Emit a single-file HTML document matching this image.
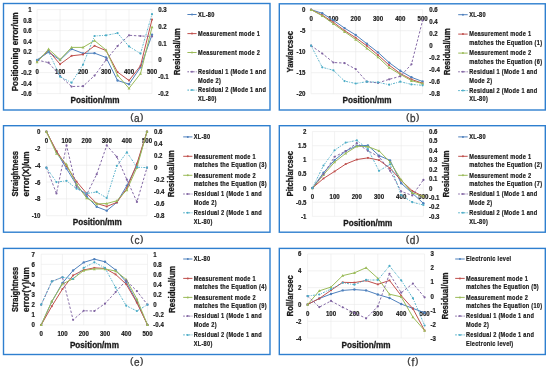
<!DOCTYPE html>
<html><head><meta charset="utf-8"><style>
html,body{margin:0;padding:0;background:#fff;width:550px;height:369px;overflow:hidden}
svg{display:block;will-change:transform}
text{font-family:"Liberation Sans", sans-serif}
</style></head><body>
<svg width="550" height="369" viewBox="0 0 550 369">
<rect width="550" height="369" fill="#fff"/>
<rect x="3.5" y="3.5" width="266.5" height="106.5" fill="none" stroke="#2e7fcf" stroke-width="1.4"/>
<line x1="37.10" y1="9.60" x2="152.00" y2="9.60" stroke="#e9e9e9" stroke-width="0.6"/>
<line x1="37.10" y1="20.10" x2="152.00" y2="20.10" stroke="#e9e9e9" stroke-width="0.6"/>
<line x1="37.10" y1="30.60" x2="152.00" y2="30.60" stroke="#e9e9e9" stroke-width="0.6"/>
<line x1="37.10" y1="41.10" x2="152.00" y2="41.10" stroke="#e9e9e9" stroke-width="0.6"/>
<line x1="37.10" y1="51.60" x2="152.00" y2="51.60" stroke="#e9e9e9" stroke-width="0.6"/>
<line x1="37.10" y1="62.10" x2="152.00" y2="62.10" stroke="#e9e9e9" stroke-width="0.6"/>
<line x1="37.10" y1="72.60" x2="152.00" y2="72.60" stroke="#e9e9e9" stroke-width="0.6"/>
<line x1="37.10" y1="83.10" x2="152.00" y2="83.10" stroke="#e9e9e9" stroke-width="0.6"/>
<line x1="37.10" y1="93.60" x2="152.00" y2="93.60" stroke="#e9e9e9" stroke-width="0.6"/>
<line x1="37.10" y1="9.60" x2="37.10" y2="93.60" stroke="#e9e9e9" stroke-width="0.6"/>
<line x1="60.08" y1="9.60" x2="60.08" y2="93.60" stroke="#e9e9e9" stroke-width="0.6"/>
<line x1="83.06" y1="9.60" x2="83.06" y2="93.60" stroke="#e9e9e9" stroke-width="0.6"/>
<line x1="106.04" y1="9.60" x2="106.04" y2="93.60" stroke="#e9e9e9" stroke-width="0.6"/>
<line x1="129.02" y1="9.60" x2="129.02" y2="93.60" stroke="#e9e9e9" stroke-width="0.6"/>
<line x1="152.00" y1="9.60" x2="152.00" y2="93.60" stroke="#e9e9e9" stroke-width="0.6"/>
<text transform="translate(31.60 12.05) scale(0.870 1)" font-size="7.0" text-anchor="end" font-weight="bold" fill="#1a1a1a" stroke="#1a1a1a" stroke-width="0.2" >1</text>
<text transform="translate(31.60 22.55) scale(0.870 1)" font-size="7.0" text-anchor="end" font-weight="bold" fill="#1a1a1a" stroke="#1a1a1a" stroke-width="0.2" >0.8</text>
<text transform="translate(31.60 33.05) scale(0.870 1)" font-size="7.0" text-anchor="end" font-weight="bold" fill="#1a1a1a" stroke="#1a1a1a" stroke-width="0.2" >0.6</text>
<text transform="translate(31.60 43.55) scale(0.870 1)" font-size="7.0" text-anchor="end" font-weight="bold" fill="#1a1a1a" stroke="#1a1a1a" stroke-width="0.2" >0.4</text>
<text transform="translate(31.60 54.05) scale(0.870 1)" font-size="7.0" text-anchor="end" font-weight="bold" fill="#1a1a1a" stroke="#1a1a1a" stroke-width="0.2" >0.2</text>
<text transform="translate(31.60 64.55) scale(0.870 1)" font-size="7.0" text-anchor="end" font-weight="bold" fill="#1a1a1a" stroke="#1a1a1a" stroke-width="0.2" >0</text>
<text transform="translate(31.60 75.05) scale(0.870 1)" font-size="7.0" text-anchor="end" font-weight="bold" fill="#1a1a1a" stroke="#1a1a1a" stroke-width="0.2" >-0.2</text>
<text transform="translate(31.60 85.55) scale(0.870 1)" font-size="7.0" text-anchor="end" font-weight="bold" fill="#1a1a1a" stroke="#1a1a1a" stroke-width="0.2" >-0.4</text>
<text transform="translate(31.60 96.05) scale(0.870 1)" font-size="7.0" text-anchor="end" font-weight="bold" fill="#1a1a1a" stroke="#1a1a1a" stroke-width="0.2" >-0.6</text>
<text transform="translate(158.20 12.05) scale(0.870 1)" font-size="7.0" text-anchor="start" font-weight="bold" fill="#1a1a1a" stroke="#1a1a1a" stroke-width="0.2" >0.3</text>
<text transform="translate(158.20 28.85) scale(0.870 1)" font-size="7.0" text-anchor="start" font-weight="bold" fill="#1a1a1a" stroke="#1a1a1a" stroke-width="0.2" >0.2</text>
<text transform="translate(158.20 45.65) scale(0.870 1)" font-size="7.0" text-anchor="start" font-weight="bold" fill="#1a1a1a" stroke="#1a1a1a" stroke-width="0.2" >0.1</text>
<text transform="translate(158.20 62.45) scale(0.870 1)" font-size="7.0" text-anchor="start" font-weight="bold" fill="#1a1a1a" stroke="#1a1a1a" stroke-width="0.2" >0</text>
<text transform="translate(158.20 79.25) scale(0.870 1)" font-size="7.0" text-anchor="start" font-weight="bold" fill="#1a1a1a" stroke="#1a1a1a" stroke-width="0.2" >-0.1</text>
<text transform="translate(158.20 96.05) scale(0.870 1)" font-size="7.0" text-anchor="start" font-weight="bold" fill="#1a1a1a" stroke="#1a1a1a" stroke-width="0.2" >-0.2</text>
<text transform="translate(37.10 73.70) scale(0.870 1)" font-size="7.0" text-anchor="middle" font-weight="bold" fill="#1a1a1a" stroke="#1a1a1a" stroke-width="0.2" >0</text>
<text transform="translate(60.08 73.70) scale(0.870 1)" font-size="7.0" text-anchor="middle" font-weight="bold" fill="#1a1a1a" stroke="#1a1a1a" stroke-width="0.2" >100</text>
<text transform="translate(83.06 73.70) scale(0.870 1)" font-size="7.0" text-anchor="middle" font-weight="bold" fill="#1a1a1a" stroke="#1a1a1a" stroke-width="0.2" >200</text>
<text transform="translate(106.04 73.70) scale(0.870 1)" font-size="7.0" text-anchor="middle" font-weight="bold" fill="#1a1a1a" stroke="#1a1a1a" stroke-width="0.2" >300</text>
<text transform="translate(129.02 73.70) scale(0.870 1)" font-size="7.0" text-anchor="middle" font-weight="bold" fill="#1a1a1a" stroke="#1a1a1a" stroke-width="0.2" >400</text>
<text transform="translate(152.00 73.70) scale(0.870 1)" font-size="7.0" text-anchor="middle" font-weight="bold" fill="#1a1a1a" stroke="#1a1a1a" stroke-width="0.2" >500</text>
<text transform="translate(95.00 103.10)" font-size="8.8" text-anchor="middle" font-weight="bold" fill="#1a1a1a" stroke="#1a1a1a" stroke-width="0.3" textLength="49.00" lengthAdjust="spacingAndGlyphs" >Position/mm</text>
<text transform="translate(17.58 51.80) rotate(-90)" font-size="8.8" text-anchor="middle" font-weight="bold" fill="#1a1a1a" stroke="#1a1a1a" stroke-width="0.3" textLength="79.00" lengthAdjust="spacingAndGlyphs" >Positioning error/um</text>
<text transform="translate(179.68 51.70) rotate(-90)" font-size="8.8" text-anchor="middle" font-weight="bold" fill="#1a1a1a" stroke="#1a1a1a" stroke-width="0.3" textLength="47.00" lengthAdjust="spacingAndGlyphs" >Residual/um</text>
<polyline points="37.10,60.00 48.59,52.12 60.08,60.00 71.57,48.98 83.06,53.38 94.55,53.17 106.04,57.48 117.53,80.47 129.02,84.15 140.51,67.35 152.00,34.80" fill="none" stroke="#4f81bd" stroke-width="1.0" stroke-linejoin="round"/>
<circle cx="37.10" cy="60.00" r="1.20" fill="#4f81bd"/>
<circle cx="48.59" cy="52.12" r="1.20" fill="#4f81bd"/>
<circle cx="60.08" cy="60.00" r="1.20" fill="#4f81bd"/>
<circle cx="71.57" cy="48.98" r="1.20" fill="#4f81bd"/>
<circle cx="83.06" cy="53.38" r="1.20" fill="#4f81bd"/>
<circle cx="94.55" cy="53.17" r="1.20" fill="#4f81bd"/>
<circle cx="106.04" cy="57.48" r="1.20" fill="#4f81bd"/>
<circle cx="117.53" cy="80.47" r="1.20" fill="#4f81bd"/>
<circle cx="129.02" cy="84.15" r="1.20" fill="#4f81bd"/>
<circle cx="140.51" cy="67.35" r="1.20" fill="#4f81bd"/>
<circle cx="152.00" cy="34.80" r="1.20" fill="#4f81bd"/>
<polyline points="37.10,61.05 48.59,50.81 60.08,64.20 71.57,55.80 83.06,54.49 94.55,45.82 106.04,50.55 117.53,72.07 129.02,80.47 140.51,65.78 152.00,19.57" fill="none" stroke="#c0504d" stroke-width="1.0" stroke-linejoin="round"/>
<rect x="36.20" y="60.15" width="1.80" height="1.80" fill="#c0504d"/>
<rect x="47.69" y="49.91" width="1.80" height="1.80" fill="#c0504d"/>
<rect x="59.18" y="63.30" width="1.80" height="1.80" fill="#c0504d"/>
<rect x="70.67" y="54.90" width="1.80" height="1.80" fill="#c0504d"/>
<rect x="82.16" y="53.59" width="1.80" height="1.80" fill="#c0504d"/>
<rect x="93.65" y="44.92" width="1.80" height="1.80" fill="#c0504d"/>
<rect x="105.14" y="49.65" width="1.80" height="1.80" fill="#c0504d"/>
<rect x="116.63" y="71.17" width="1.80" height="1.80" fill="#c0504d"/>
<rect x="128.12" y="79.57" width="1.80" height="1.80" fill="#c0504d"/>
<rect x="139.61" y="64.88" width="1.80" height="1.80" fill="#c0504d"/>
<rect x="151.10" y="18.67" width="1.80" height="1.80" fill="#c0504d"/>
<polyline points="37.10,62.10 48.59,49.13 60.08,59.47 71.57,47.40 83.06,47.40 94.55,40.58 106.04,50.03 117.53,75.22 129.02,88.35 140.51,73.65 152.00,27.08" fill="none" stroke="#9bbb59" stroke-width="1.0" stroke-linejoin="round"/>
<path d="M37.10 60.54L38.54 63.30L35.66 63.30Z" fill="#9bbb59"/>
<path d="M48.59 47.57L50.03 50.33L47.15 50.33Z" fill="#9bbb59"/>
<path d="M60.08 57.91L61.52 60.67L58.64 60.67Z" fill="#9bbb59"/>
<path d="M71.57 45.84L73.01 48.60L70.13 48.60Z" fill="#9bbb59"/>
<path d="M83.06 45.84L84.50 48.60L81.62 48.60Z" fill="#9bbb59"/>
<path d="M94.55 39.02L95.99 41.78L93.11 41.78Z" fill="#9bbb59"/>
<path d="M106.04 48.47L107.48 51.23L104.60 51.23Z" fill="#9bbb59"/>
<path d="M117.53 73.66L118.97 76.42L116.09 76.42Z" fill="#9bbb59"/>
<path d="M129.02 86.79L130.46 89.55L127.58 89.55Z" fill="#9bbb59"/>
<path d="M140.51 72.09L141.95 74.85L139.07 74.85Z" fill="#9bbb59"/>
<path d="M152.00 25.52L153.44 28.28L150.56 28.28Z" fill="#9bbb59"/>
<polyline points="37.10,60.00 48.59,62.69 60.08,75.96 71.57,86.54 83.06,86.21 94.55,75.62 106.04,60.00 117.53,46.06 129.02,35.30 140.51,35.98 152.00,36.48" fill="none" stroke="#8064a2" stroke-width="0.95" stroke-linejoin="round" stroke-dasharray="2.4,1.8"/>
<circle cx="37.10" cy="60.00" r="1.10" fill="#8064a2"/>
<circle cx="48.59" cy="62.69" r="1.10" fill="#8064a2"/>
<circle cx="60.08" cy="75.96" r="1.10" fill="#8064a2"/>
<circle cx="71.57" cy="86.54" r="1.10" fill="#8064a2"/>
<circle cx="83.06" cy="86.21" r="1.10" fill="#8064a2"/>
<circle cx="94.55" cy="75.62" r="1.10" fill="#8064a2"/>
<circle cx="106.04" cy="60.00" r="1.10" fill="#8064a2"/>
<circle cx="117.53" cy="46.06" r="1.10" fill="#8064a2"/>
<circle cx="129.02" cy="35.30" r="1.10" fill="#8064a2"/>
<circle cx="140.51" cy="35.98" r="1.10" fill="#8064a2"/>
<circle cx="152.00" cy="36.48" r="1.10" fill="#8064a2"/>
<polyline points="37.10,60.00 48.59,51.60 60.08,76.63 71.57,82.68 83.06,64.54 94.55,35.98 106.04,35.30 117.53,33.12 129.02,46.39 140.51,53.62 152.00,14.14" fill="none" stroke="#4bacc6" stroke-width="0.9" stroke-linejoin="round" stroke-dasharray="2.0,1.2,0.9,1.2"/>
<circle cx="37.10" cy="60.00" r="1.10" fill="#4bacc6"/>
<circle cx="48.59" cy="51.60" r="1.10" fill="#4bacc6"/>
<circle cx="60.08" cy="76.63" r="1.10" fill="#4bacc6"/>
<circle cx="71.57" cy="82.68" r="1.10" fill="#4bacc6"/>
<circle cx="83.06" cy="64.54" r="1.10" fill="#4bacc6"/>
<circle cx="94.55" cy="35.98" r="1.10" fill="#4bacc6"/>
<circle cx="106.04" cy="35.30" r="1.10" fill="#4bacc6"/>
<circle cx="117.53" cy="33.12" r="1.10" fill="#4bacc6"/>
<circle cx="129.02" cy="46.39" r="1.10" fill="#4bacc6"/>
<circle cx="140.51" cy="53.62" r="1.10" fill="#4bacc6"/>
<circle cx="152.00" cy="14.14" r="1.10" fill="#4bacc6"/>
<line x1="187.4" y1="14.50" x2="196.6" y2="14.50" stroke="#4f81bd" stroke-width="1"/>
<circle cx="192.00" cy="14.50" r="1" fill="#4f81bd"/>
<text transform="translate(198.00 16.70) scale(0.890 1)" font-size="6.3" text-anchor="start" font-weight="bold" fill="#1a1a1a" stroke="#1a1a1a" stroke-width="0.2" letter-spacing="0.3">XL-80</text>
<line x1="187.4" y1="33.60" x2="196.6" y2="33.60" stroke="#c0504d" stroke-width="1"/>
<circle cx="192.00" cy="33.60" r="1" fill="#c0504d"/>
<text transform="translate(198.00 35.80) scale(0.890 1)" font-size="6.3" text-anchor="start" font-weight="bold" fill="#1a1a1a" stroke="#1a1a1a" stroke-width="0.2" letter-spacing="0.3">Measurement mode 1</text>
<line x1="187.4" y1="52.50" x2="196.6" y2="52.50" stroke="#9bbb59" stroke-width="1"/>
<circle cx="192.00" cy="52.50" r="1" fill="#9bbb59"/>
<text transform="translate(198.00 54.70) scale(0.890 1)" font-size="6.3" text-anchor="start" font-weight="bold" fill="#1a1a1a" stroke="#1a1a1a" stroke-width="0.2" letter-spacing="0.3">Measurement mode 2</text>
<line x1="187.4" y1="71.80" x2="196.6" y2="71.80" stroke="#8064a2" stroke-width="1" stroke-dasharray="1.6,1.2"/>
<circle cx="192.00" cy="71.80" r="1" fill="#8064a2"/>
<text transform="translate(198.00 74.00) scale(0.890 1)" font-size="6.3" text-anchor="start" font-weight="bold" fill="#1a1a1a" stroke="#1a1a1a" stroke-width="0.2" letter-spacing="0.3">Residual 1 (Mode 1 and</text>
<text transform="translate(198.00 82.50) scale(0.890 1)" font-size="6.3" text-anchor="start" font-weight="bold" fill="#1a1a1a" stroke="#1a1a1a" stroke-width="0.2" letter-spacing="0.3">Mode 2)</text>
<line x1="187.4" y1="90.10" x2="196.6" y2="90.10" stroke="#4bacc6" stroke-width="1" stroke-dasharray="1.6,1.2"/>
<circle cx="192.00" cy="90.10" r="1" fill="#4bacc6"/>
<text transform="translate(198.00 92.30) scale(0.890 1)" font-size="6.3" text-anchor="start" font-weight="bold" fill="#1a1a1a" stroke="#1a1a1a" stroke-width="0.2" letter-spacing="0.3">Residual 2 (Mode 1 and</text>
<text transform="translate(198.00 101.00) scale(0.890 1)" font-size="6.3" text-anchor="start" font-weight="bold" fill="#1a1a1a" stroke="#1a1a1a" stroke-width="0.2" letter-spacing="0.3">XL-80)</text>
<text x="136.85" y="121.50" font-size="10" text-anchor="middle" font-weight="normal" fill="#3a3a3a" stroke="#3a3a3a" stroke-width="0.3">a</text>
<text x="133.75" y="119.90" font-size="9" text-anchor="end" font-weight="normal" fill="#3a3a3a" stroke="#3a3a3a" stroke-width="0.25" transform="translate(133.75 0) scale(1.15 1) translate(-133.75 0)">(</text>
<text x="139.95" y="119.90" font-size="9" text-anchor="start" font-weight="normal" fill="#3a3a3a" stroke="#3a3a3a" stroke-width="0.25" transform="translate(139.95 0) scale(1.15 1) translate(-139.95 0)">)</text>
<rect x="279.3" y="3.8" width="265.99999999999994" height="106.2" fill="none" stroke="#2e7fcf" stroke-width="1.4"/>
<line x1="311.10" y1="9.70" x2="422.60" y2="9.70" stroke="#e9e9e9" stroke-width="0.6"/>
<line x1="311.10" y1="30.70" x2="422.60" y2="30.70" stroke="#e9e9e9" stroke-width="0.6"/>
<line x1="311.10" y1="51.70" x2="422.60" y2="51.70" stroke="#e9e9e9" stroke-width="0.6"/>
<line x1="311.10" y1="72.70" x2="422.60" y2="72.70" stroke="#e9e9e9" stroke-width="0.6"/>
<line x1="311.10" y1="93.70" x2="422.60" y2="93.70" stroke="#e9e9e9" stroke-width="0.6"/>
<line x1="311.10" y1="9.70" x2="311.10" y2="93.70" stroke="#e9e9e9" stroke-width="0.6"/>
<line x1="333.40" y1="9.70" x2="333.40" y2="93.70" stroke="#e9e9e9" stroke-width="0.6"/>
<line x1="355.70" y1="9.70" x2="355.70" y2="93.70" stroke="#e9e9e9" stroke-width="0.6"/>
<line x1="378.00" y1="9.70" x2="378.00" y2="93.70" stroke="#e9e9e9" stroke-width="0.6"/>
<line x1="400.30" y1="9.70" x2="400.30" y2="93.70" stroke="#e9e9e9" stroke-width="0.6"/>
<line x1="422.60" y1="9.70" x2="422.60" y2="93.70" stroke="#e9e9e9" stroke-width="0.6"/>
<text transform="translate(305.40 12.15) scale(0.870 1)" font-size="7.0" text-anchor="end" font-weight="bold" fill="#1a1a1a" stroke="#1a1a1a" stroke-width="0.2" >0</text>
<text transform="translate(305.40 33.15) scale(0.870 1)" font-size="7.0" text-anchor="end" font-weight="bold" fill="#1a1a1a" stroke="#1a1a1a" stroke-width="0.2" >-5</text>
<text transform="translate(305.40 54.15) scale(0.870 1)" font-size="7.0" text-anchor="end" font-weight="bold" fill="#1a1a1a" stroke="#1a1a1a" stroke-width="0.2" >-10</text>
<text transform="translate(305.40 75.15) scale(0.870 1)" font-size="7.0" text-anchor="end" font-weight="bold" fill="#1a1a1a" stroke="#1a1a1a" stroke-width="0.2" >-15</text>
<text transform="translate(305.40 96.15) scale(0.870 1)" font-size="7.0" text-anchor="end" font-weight="bold" fill="#1a1a1a" stroke="#1a1a1a" stroke-width="0.2" >-20</text>
<text transform="translate(429.30 12.15) scale(0.870 1)" font-size="7.0" text-anchor="start" font-weight="bold" fill="#1a1a1a" stroke="#1a1a1a" stroke-width="0.2" >0.6</text>
<text transform="translate(429.30 24.15) scale(0.870 1)" font-size="7.0" text-anchor="start" font-weight="bold" fill="#1a1a1a" stroke="#1a1a1a" stroke-width="0.2" >0.4</text>
<text transform="translate(429.30 36.15) scale(0.870 1)" font-size="7.0" text-anchor="start" font-weight="bold" fill="#1a1a1a" stroke="#1a1a1a" stroke-width="0.2" >0.2</text>
<text transform="translate(429.30 48.15) scale(0.870 1)" font-size="7.0" text-anchor="start" font-weight="bold" fill="#1a1a1a" stroke="#1a1a1a" stroke-width="0.2" >0</text>
<text transform="translate(429.30 60.15) scale(0.870 1)" font-size="7.0" text-anchor="start" font-weight="bold" fill="#1a1a1a" stroke="#1a1a1a" stroke-width="0.2" >-0.2</text>
<text transform="translate(429.30 72.15) scale(0.870 1)" font-size="7.0" text-anchor="start" font-weight="bold" fill="#1a1a1a" stroke="#1a1a1a" stroke-width="0.2" >-0.4</text>
<text transform="translate(429.30 84.15) scale(0.870 1)" font-size="7.0" text-anchor="start" font-weight="bold" fill="#1a1a1a" stroke="#1a1a1a" stroke-width="0.2" >-0.6</text>
<text transform="translate(429.30 96.15) scale(0.870 1)" font-size="7.0" text-anchor="start" font-weight="bold" fill="#1a1a1a" stroke="#1a1a1a" stroke-width="0.2" >-0.8</text>
<text transform="translate(311.10 21.05) scale(0.870 1)" font-size="7.0" text-anchor="middle" font-weight="bold" fill="#1a1a1a" stroke="#1a1a1a" stroke-width="0.2" >0</text>
<text transform="translate(333.40 21.05) scale(0.870 1)" font-size="7.0" text-anchor="middle" font-weight="bold" fill="#1a1a1a" stroke="#1a1a1a" stroke-width="0.2" >100</text>
<text transform="translate(355.70 21.05) scale(0.870 1)" font-size="7.0" text-anchor="middle" font-weight="bold" fill="#1a1a1a" stroke="#1a1a1a" stroke-width="0.2" >200</text>
<text transform="translate(378.00 21.05) scale(0.870 1)" font-size="7.0" text-anchor="middle" font-weight="bold" fill="#1a1a1a" stroke="#1a1a1a" stroke-width="0.2" >300</text>
<text transform="translate(400.30 21.05) scale(0.870 1)" font-size="7.0" text-anchor="middle" font-weight="bold" fill="#1a1a1a" stroke="#1a1a1a" stroke-width="0.2" >400</text>
<text transform="translate(422.60 21.05) scale(0.870 1)" font-size="7.0" text-anchor="middle" font-weight="bold" fill="#1a1a1a" stroke="#1a1a1a" stroke-width="0.2" >500</text>
<text transform="translate(367.00 102.50)" font-size="8.8" text-anchor="middle" font-weight="bold" fill="#1a1a1a" stroke="#1a1a1a" stroke-width="0.3" textLength="49.00" lengthAdjust="spacingAndGlyphs" >Position/mm</text>
<text transform="translate(293.48 51.80) rotate(-90)" font-size="8.8" text-anchor="middle" font-weight="bold" fill="#1a1a1a" stroke="#1a1a1a" stroke-width="0.3" textLength="41.50" lengthAdjust="spacingAndGlyphs" >Yaw/arcsec</text>
<text transform="translate(449.58 51.80) rotate(-90)" font-size="8.8" text-anchor="middle" font-weight="bold" fill="#1a1a1a" stroke="#1a1a1a" stroke-width="0.3" textLength="47.00" lengthAdjust="spacingAndGlyphs" >Residual/um</text>
<polyline points="311.10,9.70 322.25,13.27 333.40,20.28 344.55,28.10 355.70,34.98 366.85,43.72 378.00,52.33 389.15,62.62 400.30,70.81 411.45,77.32 422.60,81.52" fill="none" stroke="#4f81bd" stroke-width="1.0" stroke-linejoin="round"/>
<circle cx="311.10" cy="9.70" r="1.20" fill="#4f81bd"/>
<circle cx="322.25" cy="13.27" r="1.20" fill="#4f81bd"/>
<circle cx="333.40" cy="20.28" r="1.20" fill="#4f81bd"/>
<circle cx="344.55" cy="28.10" r="1.20" fill="#4f81bd"/>
<circle cx="355.70" cy="34.98" r="1.20" fill="#4f81bd"/>
<circle cx="366.85" cy="43.72" r="1.20" fill="#4f81bd"/>
<circle cx="378.00" cy="52.33" r="1.20" fill="#4f81bd"/>
<circle cx="389.15" cy="62.62" r="1.20" fill="#4f81bd"/>
<circle cx="400.30" cy="70.81" r="1.20" fill="#4f81bd"/>
<circle cx="411.45" cy="77.32" r="1.20" fill="#4f81bd"/>
<circle cx="422.60" cy="81.52" r="1.20" fill="#4f81bd"/>
<polyline points="311.10,9.70 322.25,15.16 333.40,22.30 344.55,30.62 355.70,37.71 366.85,45.82 378.00,55.06 389.15,65.14 400.30,73.54 411.45,79.42 422.60,83.20" fill="none" stroke="#c0504d" stroke-width="1.0" stroke-linejoin="round"/>
<rect x="310.20" y="8.80" width="1.80" height="1.80" fill="#c0504d"/>
<rect x="321.35" y="14.26" width="1.80" height="1.80" fill="#c0504d"/>
<rect x="332.50" y="21.40" width="1.80" height="1.80" fill="#c0504d"/>
<rect x="343.65" y="29.72" width="1.80" height="1.80" fill="#c0504d"/>
<rect x="354.80" y="36.81" width="1.80" height="1.80" fill="#c0504d"/>
<rect x="365.95" y="44.92" width="1.80" height="1.80" fill="#c0504d"/>
<rect x="377.10" y="54.16" width="1.80" height="1.80" fill="#c0504d"/>
<rect x="388.25" y="64.24" width="1.80" height="1.80" fill="#c0504d"/>
<rect x="399.40" y="72.64" width="1.80" height="1.80" fill="#c0504d"/>
<rect x="410.55" y="78.52" width="1.80" height="1.80" fill="#c0504d"/>
<rect x="421.70" y="82.30" width="1.80" height="1.80" fill="#c0504d"/>
<polyline points="311.10,9.70 322.25,15.79 333.40,23.77 344.55,31.71 355.70,39.52 366.85,48.34 378.00,57.16 389.15,67.66 400.30,74.38 411.45,80.68 422.60,83.62" fill="none" stroke="#9bbb59" stroke-width="1.0" stroke-linejoin="round"/>
<path d="M311.10 8.14L312.54 10.90L309.66 10.90Z" fill="#9bbb59"/>
<path d="M322.25 14.23L323.69 16.99L320.81 16.99Z" fill="#9bbb59"/>
<path d="M333.40 22.21L334.84 24.97L331.96 24.97Z" fill="#9bbb59"/>
<path d="M344.55 30.15L345.99 32.91L343.11 32.91Z" fill="#9bbb59"/>
<path d="M355.70 37.96L357.14 40.72L354.26 40.72Z" fill="#9bbb59"/>
<path d="M366.85 46.78L368.29 49.54L365.41 49.54Z" fill="#9bbb59"/>
<path d="M378.00 55.60L379.44 58.36L376.56 58.36Z" fill="#9bbb59"/>
<path d="M389.15 66.10L390.59 68.86L387.71 68.86Z" fill="#9bbb59"/>
<path d="M400.30 72.82L401.74 75.58L398.86 75.58Z" fill="#9bbb59"/>
<path d="M411.45 79.12L412.89 81.88L410.01 81.88Z" fill="#9bbb59"/>
<path d="M422.60 82.06L424.04 84.82L421.16 84.82Z" fill="#9bbb59"/>
<polyline points="311.10,45.70 322.25,53.50 333.40,62.50 344.55,63.10 355.70,69.10 366.85,81.70 378.00,82.90 389.15,79.30 400.30,76.30 411.45,64.30 422.60,20.50" fill="none" stroke="#8064a2" stroke-width="0.95" stroke-linejoin="round" stroke-dasharray="2.4,1.8"/>
<circle cx="311.10" cy="45.70" r="1.10" fill="#8064a2"/>
<circle cx="322.25" cy="53.50" r="1.10" fill="#8064a2"/>
<circle cx="333.40" cy="62.50" r="1.10" fill="#8064a2"/>
<circle cx="344.55" cy="63.10" r="1.10" fill="#8064a2"/>
<circle cx="355.70" cy="69.10" r="1.10" fill="#8064a2"/>
<circle cx="366.85" cy="81.70" r="1.10" fill="#8064a2"/>
<circle cx="378.00" cy="82.90" r="1.10" fill="#8064a2"/>
<circle cx="389.15" cy="79.30" r="1.10" fill="#8064a2"/>
<circle cx="400.30" cy="76.30" r="1.10" fill="#8064a2"/>
<circle cx="411.45" cy="64.30" r="1.10" fill="#8064a2"/>
<circle cx="422.60" cy="20.50" r="1.10" fill="#8064a2"/>
<polyline points="311.10,45.70 322.25,67.30 333.40,70.30 344.55,81.10 355.70,83.50 366.85,81.70 378.00,82.30 389.15,84.70 400.30,81.70 411.45,84.40 422.60,85.30" fill="none" stroke="#4bacc6" stroke-width="0.9" stroke-linejoin="round" stroke-dasharray="2.0,1.2,0.9,1.2"/>
<circle cx="311.10" cy="45.70" r="1.10" fill="#4bacc6"/>
<circle cx="322.25" cy="67.30" r="1.10" fill="#4bacc6"/>
<circle cx="333.40" cy="70.30" r="1.10" fill="#4bacc6"/>
<circle cx="344.55" cy="81.10" r="1.10" fill="#4bacc6"/>
<circle cx="355.70" cy="83.50" r="1.10" fill="#4bacc6"/>
<circle cx="366.85" cy="81.70" r="1.10" fill="#4bacc6"/>
<circle cx="378.00" cy="82.30" r="1.10" fill="#4bacc6"/>
<circle cx="389.15" cy="84.70" r="1.10" fill="#4bacc6"/>
<circle cx="400.30" cy="81.70" r="1.10" fill="#4bacc6"/>
<circle cx="411.45" cy="84.40" r="1.10" fill="#4bacc6"/>
<circle cx="422.60" cy="85.30" r="1.10" fill="#4bacc6"/>
<line x1="458.2" y1="14.70" x2="467.7" y2="14.70" stroke="#4f81bd" stroke-width="1"/>
<circle cx="462.95" cy="14.70" r="1" fill="#4f81bd"/>
<text transform="translate(469.30 16.90) scale(0.890 1)" font-size="6.3" text-anchor="start" font-weight="bold" fill="#1a1a1a" stroke="#1a1a1a" stroke-width="0.2" letter-spacing="0.3">XL-80</text>
<line x1="458.2" y1="34.10" x2="467.7" y2="34.10" stroke="#c0504d" stroke-width="1"/>
<circle cx="462.95" cy="34.10" r="1" fill="#c0504d"/>
<text transform="translate(469.30 36.30) scale(0.890 1)" font-size="6.3" text-anchor="start" font-weight="bold" fill="#1a1a1a" stroke="#1a1a1a" stroke-width="0.2" letter-spacing="0.3">Measurement mode 1</text>
<text transform="translate(469.30 44.70) scale(0.890 1)" font-size="6.3" text-anchor="start" font-weight="bold" fill="#1a1a1a" stroke="#1a1a1a" stroke-width="0.2" letter-spacing="0.3">matches the Equation (1)</text>
<line x1="458.2" y1="53.10" x2="467.7" y2="53.10" stroke="#9bbb59" stroke-width="1"/>
<circle cx="462.95" cy="53.10" r="1" fill="#9bbb59"/>
<text transform="translate(469.30 55.30) scale(0.890 1)" font-size="6.3" text-anchor="start" font-weight="bold" fill="#1a1a1a" stroke="#1a1a1a" stroke-width="0.2" letter-spacing="0.3">Measurement mode 2</text>
<text transform="translate(469.30 63.60) scale(0.890 1)" font-size="6.3" text-anchor="start" font-weight="bold" fill="#1a1a1a" stroke="#1a1a1a" stroke-width="0.2" letter-spacing="0.3">matches the Equation (6)</text>
<line x1="458.2" y1="71.80" x2="467.7" y2="71.80" stroke="#8064a2" stroke-width="1" stroke-dasharray="1.6,1.2"/>
<circle cx="462.95" cy="71.80" r="1" fill="#8064a2"/>
<text transform="translate(469.30 74.00) scale(0.890 1)" font-size="6.3" text-anchor="start" font-weight="bold" fill="#1a1a1a" stroke="#1a1a1a" stroke-width="0.2" letter-spacing="0.3">Residual 1 (Mode 1 and</text>
<text transform="translate(469.30 82.50) scale(0.890 1)" font-size="6.3" text-anchor="start" font-weight="bold" fill="#1a1a1a" stroke="#1a1a1a" stroke-width="0.2" letter-spacing="0.3">Mode 2)</text>
<line x1="458.2" y1="90.60" x2="467.7" y2="90.60" stroke="#4bacc6" stroke-width="1" stroke-dasharray="1.6,1.2"/>
<circle cx="462.95" cy="90.60" r="1" fill="#4bacc6"/>
<text transform="translate(469.30 92.80) scale(0.890 1)" font-size="6.3" text-anchor="start" font-weight="bold" fill="#1a1a1a" stroke="#1a1a1a" stroke-width="0.2" letter-spacing="0.3">Residual 2 (Mode 1 and</text>
<text transform="translate(469.30 101.30) scale(0.890 1)" font-size="6.3" text-anchor="start" font-weight="bold" fill="#1a1a1a" stroke="#1a1a1a" stroke-width="0.2" letter-spacing="0.3">XL-80)</text>
<text x="412.70" y="121.70" font-size="10" text-anchor="middle" font-weight="normal" fill="#3a3a3a" stroke="#3a3a3a" stroke-width="0.3">b</text>
<text x="409.35" y="120.10" font-size="9" text-anchor="end" font-weight="normal" fill="#3a3a3a" stroke="#3a3a3a" stroke-width="0.25" transform="translate(409.35 0) scale(1.15 1) translate(-409.35 0)">(</text>
<text x="416.05" y="120.10" font-size="9" text-anchor="start" font-weight="normal" fill="#3a3a3a" stroke="#3a3a3a" stroke-width="0.25" transform="translate(416.05 0) scale(1.15 1) translate(-416.05 0)">)</text>
<rect x="3.5" y="125.7" width="266.5" height="106.49999999999999" fill="none" stroke="#2e7fcf" stroke-width="1.4"/>
<line x1="46.40" y1="131.60" x2="147.00" y2="131.60" stroke="#e9e9e9" stroke-width="0.6"/>
<line x1="46.40" y1="148.42" x2="147.00" y2="148.42" stroke="#e9e9e9" stroke-width="0.6"/>
<line x1="46.40" y1="165.24" x2="147.00" y2="165.24" stroke="#e9e9e9" stroke-width="0.6"/>
<line x1="46.40" y1="182.06" x2="147.00" y2="182.06" stroke="#e9e9e9" stroke-width="0.6"/>
<line x1="46.40" y1="198.88" x2="147.00" y2="198.88" stroke="#e9e9e9" stroke-width="0.6"/>
<line x1="46.40" y1="215.70" x2="147.00" y2="215.70" stroke="#e9e9e9" stroke-width="0.6"/>
<line x1="46.40" y1="131.60" x2="46.40" y2="215.70" stroke="#e9e9e9" stroke-width="0.6"/>
<line x1="66.52" y1="131.60" x2="66.52" y2="215.70" stroke="#e9e9e9" stroke-width="0.6"/>
<line x1="86.64" y1="131.60" x2="86.64" y2="215.70" stroke="#e9e9e9" stroke-width="0.6"/>
<line x1="106.76" y1="131.60" x2="106.76" y2="215.70" stroke="#e9e9e9" stroke-width="0.6"/>
<line x1="126.88" y1="131.60" x2="126.88" y2="215.70" stroke="#e9e9e9" stroke-width="0.6"/>
<line x1="147.00" y1="131.60" x2="147.00" y2="215.70" stroke="#e9e9e9" stroke-width="0.6"/>
<text transform="translate(40.50 134.05) scale(0.870 1)" font-size="7.0" text-anchor="end" font-weight="bold" fill="#1a1a1a" stroke="#1a1a1a" stroke-width="0.2" >0</text>
<text transform="translate(40.50 150.87) scale(0.870 1)" font-size="7.0" text-anchor="end" font-weight="bold" fill="#1a1a1a" stroke="#1a1a1a" stroke-width="0.2" >-2</text>
<text transform="translate(40.50 167.69) scale(0.870 1)" font-size="7.0" text-anchor="end" font-weight="bold" fill="#1a1a1a" stroke="#1a1a1a" stroke-width="0.2" >-4</text>
<text transform="translate(40.50 184.51) scale(0.870 1)" font-size="7.0" text-anchor="end" font-weight="bold" fill="#1a1a1a" stroke="#1a1a1a" stroke-width="0.2" >-6</text>
<text transform="translate(40.50 201.33) scale(0.870 1)" font-size="7.0" text-anchor="end" font-weight="bold" fill="#1a1a1a" stroke="#1a1a1a" stroke-width="0.2" >-8</text>
<text transform="translate(40.50 218.15) scale(0.870 1)" font-size="7.0" text-anchor="end" font-weight="bold" fill="#1a1a1a" stroke="#1a1a1a" stroke-width="0.2" >-10</text>
<text transform="translate(154.00 134.05) scale(0.870 1)" font-size="7.0" text-anchor="start" font-weight="bold" fill="#1a1a1a" stroke="#1a1a1a" stroke-width="0.2" >0.6</text>
<text transform="translate(154.00 146.06) scale(0.870 1)" font-size="7.0" text-anchor="start" font-weight="bold" fill="#1a1a1a" stroke="#1a1a1a" stroke-width="0.2" >0.4</text>
<text transform="translate(154.00 158.08) scale(0.870 1)" font-size="7.0" text-anchor="start" font-weight="bold" fill="#1a1a1a" stroke="#1a1a1a" stroke-width="0.2" >0.2</text>
<text transform="translate(154.00 170.09) scale(0.870 1)" font-size="7.0" text-anchor="start" font-weight="bold" fill="#1a1a1a" stroke="#1a1a1a" stroke-width="0.2" >0</text>
<text transform="translate(154.00 182.11) scale(0.870 1)" font-size="7.0" text-anchor="start" font-weight="bold" fill="#1a1a1a" stroke="#1a1a1a" stroke-width="0.2" >-0.2</text>
<text transform="translate(154.00 194.12) scale(0.870 1)" font-size="7.0" text-anchor="start" font-weight="bold" fill="#1a1a1a" stroke="#1a1a1a" stroke-width="0.2" >-0.4</text>
<text transform="translate(154.00 206.14) scale(0.870 1)" font-size="7.0" text-anchor="start" font-weight="bold" fill="#1a1a1a" stroke="#1a1a1a" stroke-width="0.2" >-0.6</text>
<text transform="translate(154.00 218.15) scale(0.870 1)" font-size="7.0" text-anchor="start" font-weight="bold" fill="#1a1a1a" stroke="#1a1a1a" stroke-width="0.2" >-0.8</text>
<text transform="translate(46.40 142.95) scale(0.870 1)" font-size="7.0" text-anchor="middle" font-weight="bold" fill="#1a1a1a" stroke="#1a1a1a" stroke-width="0.2" >0</text>
<text transform="translate(66.52 142.95) scale(0.870 1)" font-size="7.0" text-anchor="middle" font-weight="bold" fill="#1a1a1a" stroke="#1a1a1a" stroke-width="0.2" >100</text>
<text transform="translate(86.64 142.95) scale(0.870 1)" font-size="7.0" text-anchor="middle" font-weight="bold" fill="#1a1a1a" stroke="#1a1a1a" stroke-width="0.2" >200</text>
<text transform="translate(106.76 142.95) scale(0.870 1)" font-size="7.0" text-anchor="middle" font-weight="bold" fill="#1a1a1a" stroke="#1a1a1a" stroke-width="0.2" >300</text>
<text transform="translate(126.88 142.95) scale(0.870 1)" font-size="7.0" text-anchor="middle" font-weight="bold" fill="#1a1a1a" stroke="#1a1a1a" stroke-width="0.2" >400</text>
<text transform="translate(147.00 142.95) scale(0.870 1)" font-size="7.0" text-anchor="middle" font-weight="bold" fill="#1a1a1a" stroke="#1a1a1a" stroke-width="0.2" >500</text>
<text transform="translate(97.30 225.00)" font-size="8.8" text-anchor="middle" font-weight="bold" fill="#1a1a1a" stroke="#1a1a1a" stroke-width="0.3" textLength="49.00" lengthAdjust="spacingAndGlyphs" >Position/mm</text>
<text transform="translate(17.58 173.70) rotate(-90)" font-size="8.8" text-anchor="middle" font-weight="bold" fill="#1a1a1a" stroke="#1a1a1a" stroke-width="0.3" textLength="45.50" lengthAdjust="spacingAndGlyphs" >Straightness</text>
<text transform="translate(28.68 173.90) rotate(-90)" font-size="8.8" text-anchor="middle" font-weight="bold" fill="#1a1a1a" stroke="#1a1a1a" stroke-width="0.3" textLength="45.00" lengthAdjust="spacingAndGlyphs" >error(X)/um</text>
<text transform="translate(173.78 173.80) rotate(-90)" font-size="8.8" text-anchor="middle" font-weight="bold" fill="#1a1a1a" stroke="#1a1a1a" stroke-width="0.3" textLength="47.00" lengthAdjust="spacingAndGlyphs" >Residual/um</text>
<polyline points="46.40,131.60 56.46,151.78 66.52,168.60 76.58,185.00 86.64,196.36 96.70,206.79 106.76,210.65 116.82,202.41 126.88,185.59 136.94,165.24 147.00,131.60" fill="none" stroke="#4f81bd" stroke-width="1.0" stroke-linejoin="round"/>
<circle cx="46.40" cy="131.60" r="1.20" fill="#4f81bd"/>
<circle cx="56.46" cy="151.78" r="1.20" fill="#4f81bd"/>
<circle cx="66.52" cy="168.60" r="1.20" fill="#4f81bd"/>
<circle cx="76.58" cy="185.00" r="1.20" fill="#4f81bd"/>
<circle cx="86.64" cy="196.36" r="1.20" fill="#4f81bd"/>
<circle cx="96.70" cy="206.79" r="1.20" fill="#4f81bd"/>
<circle cx="106.76" cy="210.65" r="1.20" fill="#4f81bd"/>
<circle cx="116.82" cy="202.41" r="1.20" fill="#4f81bd"/>
<circle cx="126.88" cy="185.59" r="1.20" fill="#4f81bd"/>
<circle cx="136.94" cy="165.24" r="1.20" fill="#4f81bd"/>
<circle cx="147.00" cy="131.60" r="1.20" fill="#4f81bd"/>
<polyline points="46.40,131.60 56.46,150.94 66.52,166.08 76.58,181.64 86.64,193.41 96.70,203.51 106.76,206.45 116.82,202.41 126.88,188.28 136.94,163.56 147.00,131.60" fill="none" stroke="#c0504d" stroke-width="1.0" stroke-linejoin="round"/>
<rect x="45.50" y="130.70" width="1.80" height="1.80" fill="#c0504d"/>
<rect x="55.56" y="150.04" width="1.80" height="1.80" fill="#c0504d"/>
<rect x="65.62" y="165.18" width="1.80" height="1.80" fill="#c0504d"/>
<rect x="75.68" y="180.74" width="1.80" height="1.80" fill="#c0504d"/>
<rect x="85.74" y="192.51" width="1.80" height="1.80" fill="#c0504d"/>
<rect x="95.80" y="202.61" width="1.80" height="1.80" fill="#c0504d"/>
<rect x="105.86" y="205.55" width="1.80" height="1.80" fill="#c0504d"/>
<rect x="115.92" y="201.51" width="1.80" height="1.80" fill="#c0504d"/>
<rect x="125.98" y="187.38" width="1.80" height="1.80" fill="#c0504d"/>
<rect x="136.04" y="162.66" width="1.80" height="1.80" fill="#c0504d"/>
<rect x="146.10" y="130.70" width="1.80" height="1.80" fill="#c0504d"/>
<polyline points="46.40,131.60 56.46,153.47 66.52,164.40 76.58,184.41 86.64,198.04 96.70,203.93 106.76,203.51 116.82,200.81 126.88,189.97 136.94,167.43 147.00,131.60" fill="none" stroke="#9bbb59" stroke-width="1.0" stroke-linejoin="round"/>
<path d="M46.40 130.04L47.84 132.80L44.96 132.80Z" fill="#9bbb59"/>
<path d="M56.46 151.91L57.90 154.67L55.02 154.67Z" fill="#9bbb59"/>
<path d="M66.52 162.84L67.96 165.60L65.08 165.60Z" fill="#9bbb59"/>
<path d="M76.58 182.85L78.02 185.61L75.14 185.61Z" fill="#9bbb59"/>
<path d="M86.64 196.48L88.08 199.24L85.20 199.24Z" fill="#9bbb59"/>
<path d="M96.70 202.37L98.14 205.13L95.26 205.13Z" fill="#9bbb59"/>
<path d="M106.76 201.95L108.20 204.71L105.32 204.71Z" fill="#9bbb59"/>
<path d="M116.82 199.25L118.26 202.01L115.38 202.01Z" fill="#9bbb59"/>
<path d="M126.88 188.41L128.32 191.17L125.44 191.17Z" fill="#9bbb59"/>
<path d="M136.94 165.87L138.38 168.63L135.50 168.63Z" fill="#9bbb59"/>
<path d="M147.00 130.04L148.44 132.80L145.56 132.80Z" fill="#9bbb59"/>
<polyline points="46.40,167.64 56.46,193.47 66.52,145.42 76.58,187.47 86.64,194.67 96.70,174.25 106.76,145.42 116.82,156.83 126.88,179.66 136.94,201.88 147.00,167.64" fill="none" stroke="#8064a2" stroke-width="0.95" stroke-linejoin="round" stroke-dasharray="2.4,1.8"/>
<circle cx="46.40" cy="167.64" r="1.10" fill="#8064a2"/>
<circle cx="56.46" cy="193.47" r="1.10" fill="#8064a2"/>
<circle cx="66.52" cy="145.42" r="1.10" fill="#8064a2"/>
<circle cx="76.58" cy="187.47" r="1.10" fill="#8064a2"/>
<circle cx="86.64" cy="194.67" r="1.10" fill="#8064a2"/>
<circle cx="96.70" cy="174.25" r="1.10" fill="#8064a2"/>
<circle cx="106.76" cy="145.42" r="1.10" fill="#8064a2"/>
<circle cx="116.82" cy="156.83" r="1.10" fill="#8064a2"/>
<circle cx="126.88" cy="179.66" r="1.10" fill="#8064a2"/>
<circle cx="136.94" cy="201.88" r="1.10" fill="#8064a2"/>
<circle cx="147.00" cy="167.64" r="1.10" fill="#8064a2"/>
<polyline points="46.40,167.64 56.46,182.06 66.52,180.86 76.58,188.67 86.64,193.47 96.70,191.97 106.76,197.98 116.82,165.84 126.88,152.32 136.94,167.22 147.00,167.64" fill="none" stroke="#4bacc6" stroke-width="0.9" stroke-linejoin="round" stroke-dasharray="2.0,1.2,0.9,1.2"/>
<circle cx="46.40" cy="167.64" r="1.10" fill="#4bacc6"/>
<circle cx="56.46" cy="182.06" r="1.10" fill="#4bacc6"/>
<circle cx="66.52" cy="180.86" r="1.10" fill="#4bacc6"/>
<circle cx="76.58" cy="188.67" r="1.10" fill="#4bacc6"/>
<circle cx="86.64" cy="193.47" r="1.10" fill="#4bacc6"/>
<circle cx="96.70" cy="191.97" r="1.10" fill="#4bacc6"/>
<circle cx="106.76" cy="197.98" r="1.10" fill="#4bacc6"/>
<circle cx="116.82" cy="165.84" r="1.10" fill="#4bacc6"/>
<circle cx="126.88" cy="152.32" r="1.10" fill="#4bacc6"/>
<circle cx="136.94" cy="167.22" r="1.10" fill="#4bacc6"/>
<circle cx="147.00" cy="167.64" r="1.10" fill="#4bacc6"/>
<line x1="183.2" y1="136.90" x2="192.4" y2="136.90" stroke="#4f81bd" stroke-width="1"/>
<circle cx="187.80" cy="136.90" r="1" fill="#4f81bd"/>
<text transform="translate(193.80 139.11) scale(0.890 1)" font-size="6.3" text-anchor="start" font-weight="bold" fill="#1a1a1a" stroke="#1a1a1a" stroke-width="0.2" letter-spacing="0.3">XL-80</text>
<line x1="183.2" y1="156.30" x2="192.4" y2="156.30" stroke="#c0504d" stroke-width="1"/>
<circle cx="187.80" cy="156.30" r="1" fill="#c0504d"/>
<text transform="translate(193.80 158.51) scale(0.890 1)" font-size="6.3" text-anchor="start" font-weight="bold" fill="#1a1a1a" stroke="#1a1a1a" stroke-width="0.2" letter-spacing="0.3">Measurement mode 1</text>
<text transform="translate(193.80 166.91) scale(0.890 1)" font-size="6.3" text-anchor="start" font-weight="bold" fill="#1a1a1a" stroke="#1a1a1a" stroke-width="0.2" letter-spacing="0.3">matches the Equation (3)</text>
<line x1="183.2" y1="175.30" x2="192.4" y2="175.30" stroke="#9bbb59" stroke-width="1"/>
<circle cx="187.80" cy="175.30" r="1" fill="#9bbb59"/>
<text transform="translate(193.80 177.51) scale(0.890 1)" font-size="6.3" text-anchor="start" font-weight="bold" fill="#1a1a1a" stroke="#1a1a1a" stroke-width="0.2" letter-spacing="0.3">Measurement mode 2</text>
<text transform="translate(193.80 185.81) scale(0.890 1)" font-size="6.3" text-anchor="start" font-weight="bold" fill="#1a1a1a" stroke="#1a1a1a" stroke-width="0.2" letter-spacing="0.3">matches the Equation (8)</text>
<line x1="183.2" y1="194.00" x2="192.4" y2="194.00" stroke="#8064a2" stroke-width="1" stroke-dasharray="1.6,1.2"/>
<circle cx="187.80" cy="194.00" r="1" fill="#8064a2"/>
<text transform="translate(193.80 196.21) scale(0.890 1)" font-size="6.3" text-anchor="start" font-weight="bold" fill="#1a1a1a" stroke="#1a1a1a" stroke-width="0.2" letter-spacing="0.3">Residual 1 (Mode 1 and</text>
<text transform="translate(193.80 204.71) scale(0.890 1)" font-size="6.3" text-anchor="start" font-weight="bold" fill="#1a1a1a" stroke="#1a1a1a" stroke-width="0.2" letter-spacing="0.3">Mode 2)</text>
<line x1="183.2" y1="212.80" x2="192.4" y2="212.80" stroke="#4bacc6" stroke-width="1" stroke-dasharray="1.6,1.2"/>
<circle cx="187.80" cy="212.80" r="1" fill="#4bacc6"/>
<text transform="translate(193.80 215.01) scale(0.890 1)" font-size="6.3" text-anchor="start" font-weight="bold" fill="#1a1a1a" stroke="#1a1a1a" stroke-width="0.2" letter-spacing="0.3">Residual 2 (Mode 1 and</text>
<text transform="translate(193.80 223.51) scale(0.890 1)" font-size="6.3" text-anchor="start" font-weight="bold" fill="#1a1a1a" stroke="#1a1a1a" stroke-width="0.2" letter-spacing="0.3">XL-80)</text>
<text x="136.90" y="243.80" font-size="10" text-anchor="middle" font-weight="normal" fill="#3a3a3a" stroke="#3a3a3a" stroke-width="0.3">c</text>
<text x="133.80" y="242.20" font-size="9" text-anchor="end" font-weight="normal" fill="#3a3a3a" stroke="#3a3a3a" stroke-width="0.25" transform="translate(133.80 0) scale(1.15 1) translate(-133.80 0)">(</text>
<text x="140.00" y="242.20" font-size="9" text-anchor="start" font-weight="normal" fill="#3a3a3a" stroke="#3a3a3a" stroke-width="0.25" transform="translate(140.00 0) scale(1.15 1) translate(-140.00 0)">)</text>
<rect x="279.3" y="125.7" width="265.99999999999994" height="106.49999999999999" fill="none" stroke="#2e7fcf" stroke-width="1.4"/>
<line x1="312.40" y1="131.60" x2="423.40" y2="131.60" stroke="#e9e9e9" stroke-width="0.6"/>
<line x1="312.40" y1="145.72" x2="423.40" y2="145.72" stroke="#e9e9e9" stroke-width="0.6"/>
<line x1="312.40" y1="159.83" x2="423.40" y2="159.83" stroke="#e9e9e9" stroke-width="0.6"/>
<line x1="312.40" y1="173.95" x2="423.40" y2="173.95" stroke="#e9e9e9" stroke-width="0.6"/>
<line x1="312.40" y1="188.07" x2="423.40" y2="188.07" stroke="#e9e9e9" stroke-width="0.6"/>
<line x1="312.40" y1="202.18" x2="423.40" y2="202.18" stroke="#e9e9e9" stroke-width="0.6"/>
<line x1="312.40" y1="216.30" x2="423.40" y2="216.30" stroke="#e9e9e9" stroke-width="0.6"/>
<line x1="312.40" y1="131.60" x2="312.40" y2="216.30" stroke="#e9e9e9" stroke-width="0.6"/>
<line x1="334.60" y1="131.60" x2="334.60" y2="216.30" stroke="#e9e9e9" stroke-width="0.6"/>
<line x1="356.80" y1="131.60" x2="356.80" y2="216.30" stroke="#e9e9e9" stroke-width="0.6"/>
<line x1="379.00" y1="131.60" x2="379.00" y2="216.30" stroke="#e9e9e9" stroke-width="0.6"/>
<line x1="401.20" y1="131.60" x2="401.20" y2="216.30" stroke="#e9e9e9" stroke-width="0.6"/>
<line x1="423.40" y1="131.60" x2="423.40" y2="216.30" stroke="#e9e9e9" stroke-width="0.6"/>
<text transform="translate(306.50 134.05) scale(0.870 1)" font-size="7.0" text-anchor="end" font-weight="bold" fill="#1a1a1a" stroke="#1a1a1a" stroke-width="0.2" >2</text>
<text transform="translate(306.50 148.17) scale(0.870 1)" font-size="7.0" text-anchor="end" font-weight="bold" fill="#1a1a1a" stroke="#1a1a1a" stroke-width="0.2" >1.5</text>
<text transform="translate(306.50 162.28) scale(0.870 1)" font-size="7.0" text-anchor="end" font-weight="bold" fill="#1a1a1a" stroke="#1a1a1a" stroke-width="0.2" >1</text>
<text transform="translate(306.50 176.40) scale(0.870 1)" font-size="7.0" text-anchor="end" font-weight="bold" fill="#1a1a1a" stroke="#1a1a1a" stroke-width="0.2" >0.5</text>
<text transform="translate(306.50 190.52) scale(0.870 1)" font-size="7.0" text-anchor="end" font-weight="bold" fill="#1a1a1a" stroke="#1a1a1a" stroke-width="0.2" >0</text>
<text transform="translate(306.50 204.63) scale(0.870 1)" font-size="7.0" text-anchor="end" font-weight="bold" fill="#1a1a1a" stroke="#1a1a1a" stroke-width="0.2" >-0.5</text>
<text transform="translate(306.50 218.75) scale(0.870 1)" font-size="7.0" text-anchor="end" font-weight="bold" fill="#1a1a1a" stroke="#1a1a1a" stroke-width="0.2" >-1</text>
<text transform="translate(429.00 134.05) scale(0.870 1)" font-size="7.0" text-anchor="start" font-weight="bold" fill="#1a1a1a" stroke="#1a1a1a" stroke-width="0.2" >0.6</text>
<text transform="translate(429.00 143.46) scale(0.870 1)" font-size="7.0" text-anchor="start" font-weight="bold" fill="#1a1a1a" stroke="#1a1a1a" stroke-width="0.2" >0.5</text>
<text transform="translate(429.00 152.87) scale(0.870 1)" font-size="7.0" text-anchor="start" font-weight="bold" fill="#1a1a1a" stroke="#1a1a1a" stroke-width="0.2" >0.4</text>
<text transform="translate(429.00 162.28) scale(0.870 1)" font-size="7.0" text-anchor="start" font-weight="bold" fill="#1a1a1a" stroke="#1a1a1a" stroke-width="0.2" >0.3</text>
<text transform="translate(429.00 171.69) scale(0.870 1)" font-size="7.0" text-anchor="start" font-weight="bold" fill="#1a1a1a" stroke="#1a1a1a" stroke-width="0.2" >0.2</text>
<text transform="translate(429.00 181.11) scale(0.870 1)" font-size="7.0" text-anchor="start" font-weight="bold" fill="#1a1a1a" stroke="#1a1a1a" stroke-width="0.2" >0.1</text>
<text transform="translate(429.00 190.52) scale(0.870 1)" font-size="7.0" text-anchor="start" font-weight="bold" fill="#1a1a1a" stroke="#1a1a1a" stroke-width="0.2" >0</text>
<text transform="translate(429.00 199.93) scale(0.870 1)" font-size="7.0" text-anchor="start" font-weight="bold" fill="#1a1a1a" stroke="#1a1a1a" stroke-width="0.2" >-0.1</text>
<text transform="translate(429.00 209.34) scale(0.870 1)" font-size="7.0" text-anchor="start" font-weight="bold" fill="#1a1a1a" stroke="#1a1a1a" stroke-width="0.2" >-0.2</text>
<text transform="translate(429.00 218.75) scale(0.870 1)" font-size="7.0" text-anchor="start" font-weight="bold" fill="#1a1a1a" stroke="#1a1a1a" stroke-width="0.2" >-0.3</text>
<text transform="translate(312.40 198.65) scale(0.870 1)" font-size="7.0" text-anchor="middle" font-weight="bold" fill="#1a1a1a" stroke="#1a1a1a" stroke-width="0.2" >0</text>
<text transform="translate(334.60 198.65) scale(0.870 1)" font-size="7.0" text-anchor="middle" font-weight="bold" fill="#1a1a1a" stroke="#1a1a1a" stroke-width="0.2" >100</text>
<text transform="translate(356.80 198.65) scale(0.870 1)" font-size="7.0" text-anchor="middle" font-weight="bold" fill="#1a1a1a" stroke="#1a1a1a" stroke-width="0.2" >200</text>
<text transform="translate(379.00 198.65) scale(0.870 1)" font-size="7.0" text-anchor="middle" font-weight="bold" fill="#1a1a1a" stroke="#1a1a1a" stroke-width="0.2" >300</text>
<text transform="translate(401.20 198.65) scale(0.870 1)" font-size="7.0" text-anchor="middle" font-weight="bold" fill="#1a1a1a" stroke="#1a1a1a" stroke-width="0.2" >400</text>
<text transform="translate(423.40 198.65) scale(0.870 1)" font-size="7.0" text-anchor="middle" font-weight="bold" fill="#1a1a1a" stroke="#1a1a1a" stroke-width="0.2" >500</text>
<text transform="translate(367.70 225.70)" font-size="8.8" text-anchor="middle" font-weight="bold" fill="#1a1a1a" stroke="#1a1a1a" stroke-width="0.3" textLength="49.00" lengthAdjust="spacingAndGlyphs" >Position/mm</text>
<text transform="translate(293.48 173.70) rotate(-90)" font-size="8.8" text-anchor="middle" font-weight="bold" fill="#1a1a1a" stroke="#1a1a1a" stroke-width="0.3" textLength="45.60" lengthAdjust="spacingAndGlyphs" >Pitch/arcsec</text>
<text transform="translate(449.08 173.90) rotate(-90)" font-size="8.8" text-anchor="middle" font-weight="bold" fill="#1a1a1a" stroke="#1a1a1a" stroke-width="0.3" textLength="47.00" lengthAdjust="spacingAndGlyphs" >Residual/um</text>
<polyline points="312.40,188.07 323.50,172.82 334.60,160.12 345.70,151.08 356.80,145.72 367.90,145.43 379.00,155.60 390.10,160.40 401.20,183.27 412.30,193.15 423.40,203.31" fill="none" stroke="#4f81bd" stroke-width="1.0" stroke-linejoin="round"/>
<circle cx="312.40" cy="188.07" r="1.20" fill="#4f81bd"/>
<circle cx="323.50" cy="172.82" r="1.20" fill="#4f81bd"/>
<circle cx="334.60" cy="160.12" r="1.20" fill="#4f81bd"/>
<circle cx="345.70" cy="151.08" r="1.20" fill="#4f81bd"/>
<circle cx="356.80" cy="145.72" r="1.20" fill="#4f81bd"/>
<circle cx="367.90" cy="145.43" r="1.20" fill="#4f81bd"/>
<circle cx="379.00" cy="155.60" r="1.20" fill="#4f81bd"/>
<circle cx="390.10" cy="160.40" r="1.20" fill="#4f81bd"/>
<circle cx="401.20" cy="183.27" r="1.20" fill="#4f81bd"/>
<circle cx="412.30" cy="193.15" r="1.20" fill="#4f81bd"/>
<circle cx="423.40" cy="203.31" r="1.20" fill="#4f81bd"/>
<polyline points="312.40,188.07 323.50,178.47 334.60,171.41 345.70,164.07 356.80,159.55 367.90,157.86 379.00,160.12 390.10,168.30 401.20,180.44 412.30,190.89 423.40,196.54" fill="none" stroke="#c0504d" stroke-width="1.0" stroke-linejoin="round"/>
<rect x="311.50" y="187.17" width="1.80" height="1.80" fill="#c0504d"/>
<rect x="322.60" y="177.57" width="1.80" height="1.80" fill="#c0504d"/>
<rect x="333.70" y="170.51" width="1.80" height="1.80" fill="#c0504d"/>
<rect x="344.80" y="163.17" width="1.80" height="1.80" fill="#c0504d"/>
<rect x="355.90" y="158.65" width="1.80" height="1.80" fill="#c0504d"/>
<rect x="367.00" y="156.96" width="1.80" height="1.80" fill="#c0504d"/>
<rect x="378.10" y="159.22" width="1.80" height="1.80" fill="#c0504d"/>
<rect x="389.20" y="167.40" width="1.80" height="1.80" fill="#c0504d"/>
<rect x="400.30" y="179.54" width="1.80" height="1.80" fill="#c0504d"/>
<rect x="411.40" y="189.99" width="1.80" height="1.80" fill="#c0504d"/>
<rect x="422.50" y="195.64" width="1.80" height="1.80" fill="#c0504d"/>
<polyline points="312.40,188.07 323.50,174.80 334.60,162.09 345.70,153.34 356.80,146.28 367.90,146.56 379.00,150.80 390.10,162.09 401.20,179.88 412.30,192.87 423.40,196.25" fill="none" stroke="#9bbb59" stroke-width="1.0" stroke-linejoin="round"/>
<path d="M312.40 186.51L313.84 189.27L310.96 189.27Z" fill="#9bbb59"/>
<path d="M323.50 173.24L324.94 176.00L322.06 176.00Z" fill="#9bbb59"/>
<path d="M334.60 160.53L336.04 163.29L333.16 163.29Z" fill="#9bbb59"/>
<path d="M345.70 151.78L347.14 154.54L344.26 154.54Z" fill="#9bbb59"/>
<path d="M356.80 144.72L358.24 147.48L355.36 147.48Z" fill="#9bbb59"/>
<path d="M367.90 145.00L369.34 147.76L366.46 147.76Z" fill="#9bbb59"/>
<path d="M379.00 149.24L380.44 152.00L377.56 152.00Z" fill="#9bbb59"/>
<path d="M390.10 160.53L391.54 163.29L388.66 163.29Z" fill="#9bbb59"/>
<path d="M401.20 178.32L402.64 181.08L399.76 181.08Z" fill="#9bbb59"/>
<path d="M412.30 191.31L413.74 194.07L410.86 194.07Z" fill="#9bbb59"/>
<path d="M423.40 194.69L424.84 197.45L421.96 197.45Z" fill="#9bbb59"/>
<polyline points="312.40,188.07 323.50,174.23 334.60,156.73 345.70,151.08 356.80,143.18 367.90,150.80 379.00,156.73 390.10,170.84 401.20,191.45 412.30,195.41 423.40,179.88" fill="none" stroke="#8064a2" stroke-width="0.95" stroke-linejoin="round" stroke-dasharray="2.4,1.8"/>
<circle cx="312.40" cy="188.07" r="1.10" fill="#8064a2"/>
<circle cx="323.50" cy="174.23" r="1.10" fill="#8064a2"/>
<circle cx="334.60" cy="156.73" r="1.10" fill="#8064a2"/>
<circle cx="345.70" cy="151.08" r="1.10" fill="#8064a2"/>
<circle cx="356.80" cy="143.18" r="1.10" fill="#8064a2"/>
<circle cx="367.90" cy="150.80" r="1.10" fill="#8064a2"/>
<circle cx="379.00" cy="156.73" r="1.10" fill="#8064a2"/>
<circle cx="390.10" cy="170.84" r="1.10" fill="#8064a2"/>
<circle cx="401.20" cy="191.45" r="1.10" fill="#8064a2"/>
<circle cx="412.30" cy="195.41" r="1.10" fill="#8064a2"/>
<circle cx="423.40" cy="179.88" r="1.10" fill="#8064a2"/>
<polyline points="312.40,188.07 323.50,165.48 334.60,150.23 345.70,142.61 356.80,140.35 367.90,149.10 379.00,170.84 390.10,164.35 401.20,195.12 412.30,202.18 423.40,205.01" fill="none" stroke="#4bacc6" stroke-width="0.9" stroke-linejoin="round" stroke-dasharray="2.0,1.2,0.9,1.2"/>
<circle cx="312.40" cy="188.07" r="1.10" fill="#4bacc6"/>
<circle cx="323.50" cy="165.48" r="1.10" fill="#4bacc6"/>
<circle cx="334.60" cy="150.23" r="1.10" fill="#4bacc6"/>
<circle cx="345.70" cy="142.61" r="1.10" fill="#4bacc6"/>
<circle cx="356.80" cy="140.35" r="1.10" fill="#4bacc6"/>
<circle cx="367.90" cy="149.10" r="1.10" fill="#4bacc6"/>
<circle cx="379.00" cy="170.84" r="1.10" fill="#4bacc6"/>
<circle cx="390.10" cy="164.35" r="1.10" fill="#4bacc6"/>
<circle cx="401.20" cy="195.12" r="1.10" fill="#4bacc6"/>
<circle cx="412.30" cy="202.18" r="1.10" fill="#4bacc6"/>
<circle cx="423.40" cy="205.01" r="1.10" fill="#4bacc6"/>
<line x1="458.2" y1="136.90" x2="467.7" y2="136.90" stroke="#4f81bd" stroke-width="1"/>
<circle cx="462.95" cy="136.90" r="1" fill="#4f81bd"/>
<text transform="translate(469.30 139.11) scale(0.890 1)" font-size="6.3" text-anchor="start" font-weight="bold" fill="#1a1a1a" stroke="#1a1a1a" stroke-width="0.2" letter-spacing="0.3">XL-80</text>
<line x1="458.2" y1="156.30" x2="467.7" y2="156.30" stroke="#c0504d" stroke-width="1"/>
<circle cx="462.95" cy="156.30" r="1" fill="#c0504d"/>
<text transform="translate(469.30 158.51) scale(0.890 1)" font-size="6.3" text-anchor="start" font-weight="bold" fill="#1a1a1a" stroke="#1a1a1a" stroke-width="0.2" letter-spacing="0.3">Measurement mode 1</text>
<text transform="translate(469.30 166.91) scale(0.890 1)" font-size="6.3" text-anchor="start" font-weight="bold" fill="#1a1a1a" stroke="#1a1a1a" stroke-width="0.2" letter-spacing="0.3">matches the Equation (2)</text>
<line x1="458.2" y1="175.30" x2="467.7" y2="175.30" stroke="#9bbb59" stroke-width="1"/>
<circle cx="462.95" cy="175.30" r="1" fill="#9bbb59"/>
<text transform="translate(469.30 177.51) scale(0.890 1)" font-size="6.3" text-anchor="start" font-weight="bold" fill="#1a1a1a" stroke="#1a1a1a" stroke-width="0.2" letter-spacing="0.3">Measurement mode 2</text>
<text transform="translate(469.30 185.81) scale(0.890 1)" font-size="6.3" text-anchor="start" font-weight="bold" fill="#1a1a1a" stroke="#1a1a1a" stroke-width="0.2" letter-spacing="0.3">matches the Equation (7)</text>
<line x1="458.2" y1="194.00" x2="467.7" y2="194.00" stroke="#8064a2" stroke-width="1" stroke-dasharray="1.6,1.2"/>
<circle cx="462.95" cy="194.00" r="1" fill="#8064a2"/>
<text transform="translate(469.30 196.21) scale(0.890 1)" font-size="6.3" text-anchor="start" font-weight="bold" fill="#1a1a1a" stroke="#1a1a1a" stroke-width="0.2" letter-spacing="0.3">Residual 1 (Mode 1 and</text>
<text transform="translate(469.30 204.71) scale(0.890 1)" font-size="6.3" text-anchor="start" font-weight="bold" fill="#1a1a1a" stroke="#1a1a1a" stroke-width="0.2" letter-spacing="0.3">Mode 2)</text>
<line x1="458.2" y1="212.80" x2="467.7" y2="212.80" stroke="#4bacc6" stroke-width="1" stroke-dasharray="1.6,1.2"/>
<circle cx="462.95" cy="212.80" r="1" fill="#4bacc6"/>
<text transform="translate(469.30 215.01) scale(0.890 1)" font-size="6.3" text-anchor="start" font-weight="bold" fill="#1a1a1a" stroke="#1a1a1a" stroke-width="0.2" letter-spacing="0.3">Residual 2 (Mode 1 and</text>
<text transform="translate(469.30 223.51) scale(0.890 1)" font-size="6.3" text-anchor="start" font-weight="bold" fill="#1a1a1a" stroke="#1a1a1a" stroke-width="0.2" letter-spacing="0.3">XL-80)</text>
<text x="412.60" y="243.80" font-size="10" text-anchor="middle" font-weight="normal" fill="#3a3a3a" stroke="#3a3a3a" stroke-width="0.3">d</text>
<text x="409.25" y="242.20" font-size="9" text-anchor="end" font-weight="normal" fill="#3a3a3a" stroke="#3a3a3a" stroke-width="0.25" transform="translate(409.25 0) scale(1.15 1) translate(-409.25 0)">(</text>
<text x="415.95" y="242.20" font-size="9" text-anchor="start" font-weight="normal" fill="#3a3a3a" stroke="#3a3a3a" stroke-width="0.25" transform="translate(415.95 0) scale(1.15 1) translate(-415.95 0)">)</text>
<rect x="3.5" y="248.4" width="266.5" height="106.1" fill="none" stroke="#2e7fcf" stroke-width="1.4"/>
<line x1="41.20" y1="254.20" x2="147.50" y2="254.20" stroke="#e9e9e9" stroke-width="0.6"/>
<line x1="41.20" y1="264.30" x2="147.50" y2="264.30" stroke="#e9e9e9" stroke-width="0.6"/>
<line x1="41.20" y1="274.40" x2="147.50" y2="274.40" stroke="#e9e9e9" stroke-width="0.6"/>
<line x1="41.20" y1="284.50" x2="147.50" y2="284.50" stroke="#e9e9e9" stroke-width="0.6"/>
<line x1="41.20" y1="294.60" x2="147.50" y2="294.60" stroke="#e9e9e9" stroke-width="0.6"/>
<line x1="41.20" y1="304.70" x2="147.50" y2="304.70" stroke="#e9e9e9" stroke-width="0.6"/>
<line x1="41.20" y1="314.80" x2="147.50" y2="314.80" stroke="#e9e9e9" stroke-width="0.6"/>
<line x1="41.20" y1="324.90" x2="147.50" y2="324.90" stroke="#e9e9e9" stroke-width="0.6"/>
<line x1="41.20" y1="254.20" x2="41.20" y2="324.90" stroke="#e9e9e9" stroke-width="0.6"/>
<line x1="62.46" y1="254.20" x2="62.46" y2="324.90" stroke="#e9e9e9" stroke-width="0.6"/>
<line x1="83.72" y1="254.20" x2="83.72" y2="324.90" stroke="#e9e9e9" stroke-width="0.6"/>
<line x1="104.98" y1="254.20" x2="104.98" y2="324.90" stroke="#e9e9e9" stroke-width="0.6"/>
<line x1="126.24" y1="254.20" x2="126.24" y2="324.90" stroke="#e9e9e9" stroke-width="0.6"/>
<line x1="147.50" y1="254.20" x2="147.50" y2="324.90" stroke="#e9e9e9" stroke-width="0.6"/>
<text transform="translate(34.90 256.65) scale(0.870 1)" font-size="7.0" text-anchor="end" font-weight="bold" fill="#1a1a1a" stroke="#1a1a1a" stroke-width="0.2" >7</text>
<text transform="translate(34.90 266.75) scale(0.870 1)" font-size="7.0" text-anchor="end" font-weight="bold" fill="#1a1a1a" stroke="#1a1a1a" stroke-width="0.2" >6</text>
<text transform="translate(34.90 276.85) scale(0.870 1)" font-size="7.0" text-anchor="end" font-weight="bold" fill="#1a1a1a" stroke="#1a1a1a" stroke-width="0.2" >5</text>
<text transform="translate(34.90 286.95) scale(0.870 1)" font-size="7.0" text-anchor="end" font-weight="bold" fill="#1a1a1a" stroke="#1a1a1a" stroke-width="0.2" >4</text>
<text transform="translate(34.90 297.05) scale(0.870 1)" font-size="7.0" text-anchor="end" font-weight="bold" fill="#1a1a1a" stroke="#1a1a1a" stroke-width="0.2" >3</text>
<text transform="translate(34.90 307.15) scale(0.870 1)" font-size="7.0" text-anchor="end" font-weight="bold" fill="#1a1a1a" stroke="#1a1a1a" stroke-width="0.2" >2</text>
<text transform="translate(34.90 317.25) scale(0.870 1)" font-size="7.0" text-anchor="end" font-weight="bold" fill="#1a1a1a" stroke="#1a1a1a" stroke-width="0.2" >1</text>
<text transform="translate(34.90 327.35) scale(0.870 1)" font-size="7.0" text-anchor="end" font-weight="bold" fill="#1a1a1a" stroke="#1a1a1a" stroke-width="0.2" >0</text>
<text transform="translate(153.30 256.65) scale(0.870 1)" font-size="7.0" text-anchor="start" font-weight="bold" fill="#1a1a1a" stroke="#1a1a1a" stroke-width="0.2" >1</text>
<text transform="translate(153.30 266.75) scale(0.870 1)" font-size="7.0" text-anchor="start" font-weight="bold" fill="#1a1a1a" stroke="#1a1a1a" stroke-width="0.2" >0.8</text>
<text transform="translate(153.30 276.85) scale(0.870 1)" font-size="7.0" text-anchor="start" font-weight="bold" fill="#1a1a1a" stroke="#1a1a1a" stroke-width="0.2" >0.6</text>
<text transform="translate(153.30 286.95) scale(0.870 1)" font-size="7.0" text-anchor="start" font-weight="bold" fill="#1a1a1a" stroke="#1a1a1a" stroke-width="0.2" >0.4</text>
<text transform="translate(153.30 297.05) scale(0.870 1)" font-size="7.0" text-anchor="start" font-weight="bold" fill="#1a1a1a" stroke="#1a1a1a" stroke-width="0.2" >0.2</text>
<text transform="translate(153.30 307.15) scale(0.870 1)" font-size="7.0" text-anchor="start" font-weight="bold" fill="#1a1a1a" stroke="#1a1a1a" stroke-width="0.2" >0</text>
<text transform="translate(153.30 317.25) scale(0.870 1)" font-size="7.0" text-anchor="start" font-weight="bold" fill="#1a1a1a" stroke="#1a1a1a" stroke-width="0.2" >-0.2</text>
<text transform="translate(153.30 327.35) scale(0.870 1)" font-size="7.0" text-anchor="start" font-weight="bold" fill="#1a1a1a" stroke="#1a1a1a" stroke-width="0.2" >-0.4</text>
<text transform="translate(41.20 336.15) scale(0.870 1)" font-size="7.0" text-anchor="middle" font-weight="bold" fill="#1a1a1a" stroke="#1a1a1a" stroke-width="0.2" >0</text>
<text transform="translate(62.46 336.15) scale(0.870 1)" font-size="7.0" text-anchor="middle" font-weight="bold" fill="#1a1a1a" stroke="#1a1a1a" stroke-width="0.2" >100</text>
<text transform="translate(83.72 336.15) scale(0.870 1)" font-size="7.0" text-anchor="middle" font-weight="bold" fill="#1a1a1a" stroke="#1a1a1a" stroke-width="0.2" >200</text>
<text transform="translate(104.98 336.15) scale(0.870 1)" font-size="7.0" text-anchor="middle" font-weight="bold" fill="#1a1a1a" stroke="#1a1a1a" stroke-width="0.2" >300</text>
<text transform="translate(126.24 336.15) scale(0.870 1)" font-size="7.0" text-anchor="middle" font-weight="bold" fill="#1a1a1a" stroke="#1a1a1a" stroke-width="0.2" >400</text>
<text transform="translate(147.50 336.15) scale(0.870 1)" font-size="7.0" text-anchor="middle" font-weight="bold" fill="#1a1a1a" stroke="#1a1a1a" stroke-width="0.2" >500</text>
<text transform="translate(94.40 347.50)" font-size="8.8" text-anchor="middle" font-weight="bold" fill="#1a1a1a" stroke="#1a1a1a" stroke-width="0.3" textLength="49.00" lengthAdjust="spacingAndGlyphs" >Position/mm</text>
<text transform="translate(17.58 289.40) rotate(-90)" font-size="8.8" text-anchor="middle" font-weight="bold" fill="#1a1a1a" stroke="#1a1a1a" stroke-width="0.3" textLength="45.30" lengthAdjust="spacingAndGlyphs" >Straightness</text>
<text transform="translate(28.78 289.60) rotate(-90)" font-size="8.8" text-anchor="middle" font-weight="bold" fill="#1a1a1a" stroke="#1a1a1a" stroke-width="0.3" textLength="44.80" lengthAdjust="spacingAndGlyphs" >error(Y)/um</text>
<text transform="translate(175.08 289.40) rotate(-90)" font-size="8.8" text-anchor="middle" font-weight="bold" fill="#1a1a1a" stroke="#1a1a1a" stroke-width="0.3" textLength="47.00" lengthAdjust="spacingAndGlyphs" >Residual/um</text>
<polyline points="41.20,324.90 51.83,301.67 62.46,282.98 73.09,270.46 83.72,262.38 94.35,259.15 104.98,261.77 115.61,269.96 126.24,281.97 136.87,301.67 147.50,324.90" fill="none" stroke="#4f81bd" stroke-width="1.0" stroke-linejoin="round"/>
<circle cx="41.20" cy="324.90" r="1.20" fill="#4f81bd"/>
<circle cx="51.83" cy="301.67" r="1.20" fill="#4f81bd"/>
<circle cx="62.46" cy="282.98" r="1.20" fill="#4f81bd"/>
<circle cx="73.09" cy="270.46" r="1.20" fill="#4f81bd"/>
<circle cx="83.72" cy="262.38" r="1.20" fill="#4f81bd"/>
<circle cx="94.35" cy="259.15" r="1.20" fill="#4f81bd"/>
<circle cx="104.98" cy="261.77" r="1.20" fill="#4f81bd"/>
<circle cx="115.61" cy="269.96" r="1.20" fill="#4f81bd"/>
<circle cx="126.24" cy="281.97" r="1.20" fill="#4f81bd"/>
<circle cx="136.87" cy="301.67" r="1.20" fill="#4f81bd"/>
<circle cx="147.50" cy="324.90" r="1.20" fill="#4f81bd"/>
<polyline points="41.20,324.90 51.83,306.21 62.46,289.04 73.09,275.41 83.72,269.96 94.35,267.83 104.98,268.44 115.61,274.40 126.24,284.20 136.87,302.68 147.50,324.90" fill="none" stroke="#c0504d" stroke-width="1.0" stroke-linejoin="round"/>
<rect x="40.30" y="324.00" width="1.80" height="1.80" fill="#c0504d"/>
<rect x="50.93" y="305.31" width="1.80" height="1.80" fill="#c0504d"/>
<rect x="61.56" y="288.14" width="1.80" height="1.80" fill="#c0504d"/>
<rect x="72.19" y="274.51" width="1.80" height="1.80" fill="#c0504d"/>
<rect x="82.82" y="269.06" width="1.80" height="1.80" fill="#c0504d"/>
<rect x="93.45" y="266.94" width="1.80" height="1.80" fill="#c0504d"/>
<rect x="104.08" y="267.54" width="1.80" height="1.80" fill="#c0504d"/>
<rect x="114.71" y="273.50" width="1.80" height="1.80" fill="#c0504d"/>
<rect x="125.34" y="283.30" width="1.80" height="1.80" fill="#c0504d"/>
<rect x="135.97" y="301.78" width="1.80" height="1.80" fill="#c0504d"/>
<rect x="146.60" y="324.00" width="1.80" height="1.80" fill="#c0504d"/>
<polyline points="41.20,324.90 51.83,301.27 62.46,284.00 73.09,278.74 83.72,270.46 94.35,268.95 104.98,268.95 115.61,271.07 126.24,279.45 136.87,298.94 147.50,324.90" fill="none" stroke="#9bbb59" stroke-width="1.0" stroke-linejoin="round"/>
<path d="M41.20 323.34L42.64 326.10L39.76 326.10Z" fill="#9bbb59"/>
<path d="M51.83 299.71L53.27 302.47L50.39 302.47Z" fill="#9bbb59"/>
<path d="M62.46 282.44L63.90 285.19L61.02 285.19Z" fill="#9bbb59"/>
<path d="M73.09 277.18L74.53 279.94L71.65 279.94Z" fill="#9bbb59"/>
<path d="M83.72 268.90L85.16 271.66L82.28 271.66Z" fill="#9bbb59"/>
<path d="M94.35 267.39L95.79 270.15L92.91 270.15Z" fill="#9bbb59"/>
<path d="M104.98 267.39L106.42 270.15L103.54 270.15Z" fill="#9bbb59"/>
<path d="M115.61 269.51L117.05 272.27L114.17 272.27Z" fill="#9bbb59"/>
<path d="M126.24 277.89L127.68 280.65L124.80 280.65Z" fill="#9bbb59"/>
<path d="M136.87 297.38L138.31 300.14L135.43 300.14Z" fill="#9bbb59"/>
<path d="M147.50 323.34L148.94 326.10L146.06 326.10Z" fill="#9bbb59"/>
<polyline points="41.20,304.70 51.83,281.47 62.46,277.23 73.09,319.85 83.72,310.76 94.35,311.01 104.98,303.69 115.61,292.07 126.24,280.46 136.87,291.06 147.50,304.70" fill="none" stroke="#8064a2" stroke-width="0.95" stroke-linejoin="round" stroke-dasharray="2.4,1.8"/>
<circle cx="41.20" cy="304.70" r="1.10" fill="#8064a2"/>
<circle cx="51.83" cy="281.47" r="1.10" fill="#8064a2"/>
<circle cx="62.46" cy="277.23" r="1.10" fill="#8064a2"/>
<circle cx="73.09" cy="319.85" r="1.10" fill="#8064a2"/>
<circle cx="83.72" cy="310.76" r="1.10" fill="#8064a2"/>
<circle cx="94.35" cy="311.01" r="1.10" fill="#8064a2"/>
<circle cx="104.98" cy="303.69" r="1.10" fill="#8064a2"/>
<circle cx="115.61" cy="292.07" r="1.10" fill="#8064a2"/>
<circle cx="126.24" cy="280.46" r="1.10" fill="#8064a2"/>
<circle cx="136.87" cy="291.06" r="1.10" fill="#8064a2"/>
<circle cx="147.50" cy="304.70" r="1.10" fill="#8064a2"/>
<polyline points="41.20,304.70 51.83,281.47 62.46,277.23 73.09,278.94 83.72,267.83 94.35,262.28 104.98,267.83 115.61,287.53 126.24,305.71 136.87,311.01 147.50,304.70" fill="none" stroke="#4bacc6" stroke-width="0.9" stroke-linejoin="round" stroke-dasharray="2.0,1.2,0.9,1.2"/>
<circle cx="41.20" cy="304.70" r="1.10" fill="#4bacc6"/>
<circle cx="51.83" cy="281.47" r="1.10" fill="#4bacc6"/>
<circle cx="62.46" cy="277.23" r="1.10" fill="#4bacc6"/>
<circle cx="73.09" cy="278.94" r="1.10" fill="#4bacc6"/>
<circle cx="83.72" cy="267.83" r="1.10" fill="#4bacc6"/>
<circle cx="94.35" cy="262.28" r="1.10" fill="#4bacc6"/>
<circle cx="104.98" cy="267.83" r="1.10" fill="#4bacc6"/>
<circle cx="115.61" cy="287.53" r="1.10" fill="#4bacc6"/>
<circle cx="126.24" cy="305.71" r="1.10" fill="#4bacc6"/>
<circle cx="136.87" cy="311.01" r="1.10" fill="#4bacc6"/>
<circle cx="147.50" cy="304.70" r="1.10" fill="#4bacc6"/>
<line x1="183.2" y1="259.00" x2="192.4" y2="259.00" stroke="#4f81bd" stroke-width="1"/>
<circle cx="187.80" cy="259.00" r="1" fill="#4f81bd"/>
<text transform="translate(193.80 261.20) scale(0.890 1)" font-size="6.3" text-anchor="start" font-weight="bold" fill="#1a1a1a" stroke="#1a1a1a" stroke-width="0.2" letter-spacing="0.3">XL-80</text>
<line x1="183.2" y1="278.40" x2="192.4" y2="278.40" stroke="#c0504d" stroke-width="1"/>
<circle cx="187.80" cy="278.40" r="1" fill="#c0504d"/>
<text transform="translate(193.80 280.61) scale(0.890 1)" font-size="6.3" text-anchor="start" font-weight="bold" fill="#1a1a1a" stroke="#1a1a1a" stroke-width="0.2" letter-spacing="0.3">Measurement mode 1</text>
<text transform="translate(193.80 289.00) scale(0.890 1)" font-size="6.3" text-anchor="start" font-weight="bold" fill="#1a1a1a" stroke="#1a1a1a" stroke-width="0.2" letter-spacing="0.3">matches the Equation (4)</text>
<line x1="183.2" y1="297.40" x2="192.4" y2="297.40" stroke="#9bbb59" stroke-width="1"/>
<circle cx="187.80" cy="297.40" r="1" fill="#9bbb59"/>
<text transform="translate(193.80 299.61) scale(0.890 1)" font-size="6.3" text-anchor="start" font-weight="bold" fill="#1a1a1a" stroke="#1a1a1a" stroke-width="0.2" letter-spacing="0.3">Measurement mode 2</text>
<text transform="translate(193.80 307.90) scale(0.890 1)" font-size="6.3" text-anchor="start" font-weight="bold" fill="#1a1a1a" stroke="#1a1a1a" stroke-width="0.2" letter-spacing="0.3">matches the Equation (9)</text>
<line x1="183.2" y1="316.10" x2="192.4" y2="316.10" stroke="#8064a2" stroke-width="1" stroke-dasharray="1.6,1.2"/>
<circle cx="187.80" cy="316.10" r="1" fill="#8064a2"/>
<text transform="translate(193.80 318.31) scale(0.890 1)" font-size="6.3" text-anchor="start" font-weight="bold" fill="#1a1a1a" stroke="#1a1a1a" stroke-width="0.2" letter-spacing="0.3">Residual 1 (Mode 1 and</text>
<text transform="translate(193.80 326.81) scale(0.890 1)" font-size="6.3" text-anchor="start" font-weight="bold" fill="#1a1a1a" stroke="#1a1a1a" stroke-width="0.2" letter-spacing="0.3">Mode 2)</text>
<line x1="183.2" y1="334.90" x2="192.4" y2="334.90" stroke="#4bacc6" stroke-width="1" stroke-dasharray="1.6,1.2"/>
<circle cx="187.80" cy="334.90" r="1" fill="#4bacc6"/>
<text transform="translate(193.80 337.10) scale(0.890 1)" font-size="6.3" text-anchor="start" font-weight="bold" fill="#1a1a1a" stroke="#1a1a1a" stroke-width="0.2" letter-spacing="0.3">Residual 2 (Mode 1 and</text>
<text transform="translate(193.80 345.60) scale(0.890 1)" font-size="6.3" text-anchor="start" font-weight="bold" fill="#1a1a1a" stroke="#1a1a1a" stroke-width="0.2" letter-spacing="0.3">XL-80)</text>
<text x="136.75" y="365.90" font-size="10" text-anchor="middle" font-weight="normal" fill="#3a3a3a" stroke="#3a3a3a" stroke-width="0.3">e</text>
<text x="133.55" y="364.30" font-size="9" text-anchor="end" font-weight="normal" fill="#3a3a3a" stroke="#3a3a3a" stroke-width="0.25" transform="translate(133.55 0) scale(1.15 1) translate(-133.55 0)">(</text>
<text x="139.95" y="364.30" font-size="9" text-anchor="start" font-weight="normal" fill="#3a3a3a" stroke="#3a3a3a" stroke-width="0.25" transform="translate(139.95 0) scale(1.15 1) translate(-139.95 0)">)</text>
<rect x="279.3" y="248.4" width="265.99999999999994" height="106.1" fill="none" stroke="#2e7fcf" stroke-width="1.4"/>
<line x1="307.60" y1="254.00" x2="424.60" y2="254.00" stroke="#e9e9e9" stroke-width="0.6"/>
<line x1="307.60" y1="270.82" x2="424.60" y2="270.82" stroke="#e9e9e9" stroke-width="0.6"/>
<line x1="307.60" y1="287.64" x2="424.60" y2="287.64" stroke="#e9e9e9" stroke-width="0.6"/>
<line x1="307.60" y1="304.46" x2="424.60" y2="304.46" stroke="#e9e9e9" stroke-width="0.6"/>
<line x1="307.60" y1="321.28" x2="424.60" y2="321.28" stroke="#e9e9e9" stroke-width="0.6"/>
<line x1="307.60" y1="338.10" x2="424.60" y2="338.10" stroke="#e9e9e9" stroke-width="0.6"/>
<line x1="307.60" y1="254.00" x2="307.60" y2="338.10" stroke="#e9e9e9" stroke-width="0.6"/>
<line x1="331.00" y1="254.00" x2="331.00" y2="338.10" stroke="#e9e9e9" stroke-width="0.6"/>
<line x1="354.40" y1="254.00" x2="354.40" y2="338.10" stroke="#e9e9e9" stroke-width="0.6"/>
<line x1="377.80" y1="254.00" x2="377.80" y2="338.10" stroke="#e9e9e9" stroke-width="0.6"/>
<line x1="401.20" y1="254.00" x2="401.20" y2="338.10" stroke="#e9e9e9" stroke-width="0.6"/>
<line x1="424.60" y1="254.00" x2="424.60" y2="338.10" stroke="#e9e9e9" stroke-width="0.6"/>
<text transform="translate(301.50 256.45) scale(0.870 1)" font-size="7.0" text-anchor="end" font-weight="bold" fill="#1a1a1a" stroke="#1a1a1a" stroke-width="0.2" >6</text>
<text transform="translate(301.50 273.27) scale(0.870 1)" font-size="7.0" text-anchor="end" font-weight="bold" fill="#1a1a1a" stroke="#1a1a1a" stroke-width="0.2" >4</text>
<text transform="translate(301.50 290.09) scale(0.870 1)" font-size="7.0" text-anchor="end" font-weight="bold" fill="#1a1a1a" stroke="#1a1a1a" stroke-width="0.2" >2</text>
<text transform="translate(301.50 306.91) scale(0.870 1)" font-size="7.0" text-anchor="end" font-weight="bold" fill="#1a1a1a" stroke="#1a1a1a" stroke-width="0.2" >0</text>
<text transform="translate(301.50 323.73) scale(0.870 1)" font-size="7.0" text-anchor="end" font-weight="bold" fill="#1a1a1a" stroke="#1a1a1a" stroke-width="0.2" >-2</text>
<text transform="translate(301.50 340.55) scale(0.870 1)" font-size="7.0" text-anchor="end" font-weight="bold" fill="#1a1a1a" stroke="#1a1a1a" stroke-width="0.2" >-4</text>
<text transform="translate(430.40 256.45) scale(0.870 1)" font-size="7.0" text-anchor="start" font-weight="bold" fill="#1a1a1a" stroke="#1a1a1a" stroke-width="0.2" >3</text>
<text transform="translate(430.40 270.47) scale(0.870 1)" font-size="7.0" text-anchor="start" font-weight="bold" fill="#1a1a1a" stroke="#1a1a1a" stroke-width="0.2" >2</text>
<text transform="translate(430.40 284.48) scale(0.870 1)" font-size="7.0" text-anchor="start" font-weight="bold" fill="#1a1a1a" stroke="#1a1a1a" stroke-width="0.2" >1</text>
<text transform="translate(430.40 298.50) scale(0.870 1)" font-size="7.0" text-anchor="start" font-weight="bold" fill="#1a1a1a" stroke="#1a1a1a" stroke-width="0.2" >0</text>
<text transform="translate(430.40 312.52) scale(0.870 1)" font-size="7.0" text-anchor="start" font-weight="bold" fill="#1a1a1a" stroke="#1a1a1a" stroke-width="0.2" >-1</text>
<text transform="translate(430.40 326.53) scale(0.870 1)" font-size="7.0" text-anchor="start" font-weight="bold" fill="#1a1a1a" stroke="#1a1a1a" stroke-width="0.2" >-2</text>
<text transform="translate(430.40 340.55) scale(0.870 1)" font-size="7.0" text-anchor="start" font-weight="bold" fill="#1a1a1a" stroke="#1a1a1a" stroke-width="0.2" >-3</text>
<text transform="translate(307.60 315.65) scale(0.870 1)" font-size="7.0" text-anchor="middle" font-weight="bold" fill="#1a1a1a" stroke="#1a1a1a" stroke-width="0.2" >0</text>
<text transform="translate(331.00 315.65) scale(0.870 1)" font-size="7.0" text-anchor="middle" font-weight="bold" fill="#1a1a1a" stroke="#1a1a1a" stroke-width="0.2" >100</text>
<text transform="translate(354.40 315.65) scale(0.870 1)" font-size="7.0" text-anchor="middle" font-weight="bold" fill="#1a1a1a" stroke="#1a1a1a" stroke-width="0.2" >200</text>
<text transform="translate(377.80 315.65) scale(0.870 1)" font-size="7.0" text-anchor="middle" font-weight="bold" fill="#1a1a1a" stroke="#1a1a1a" stroke-width="0.2" >300</text>
<text transform="translate(401.20 315.65) scale(0.870 1)" font-size="7.0" text-anchor="middle" font-weight="bold" fill="#1a1a1a" stroke="#1a1a1a" stroke-width="0.2" >400</text>
<text transform="translate(424.60 315.65) scale(0.870 1)" font-size="7.0" text-anchor="middle" font-weight="bold" fill="#1a1a1a" stroke="#1a1a1a" stroke-width="0.2" >500</text>
<text transform="translate(366.10 347.50)" font-size="8.8" text-anchor="middle" font-weight="bold" fill="#1a1a1a" stroke="#1a1a1a" stroke-width="0.3" textLength="49.00" lengthAdjust="spacingAndGlyphs" >Position/mm</text>
<text transform="translate(293.48 295.80) rotate(-90)" font-size="8.8" text-anchor="middle" font-weight="bold" fill="#1a1a1a" stroke="#1a1a1a" stroke-width="0.3" textLength="41.30" lengthAdjust="spacingAndGlyphs" >Roll/arcsec</text>
<text transform="translate(448.48 296.00) rotate(-90)" font-size="8.8" text-anchor="middle" font-weight="bold" fill="#1a1a1a" stroke="#1a1a1a" stroke-width="0.3" textLength="47.00" lengthAdjust="spacingAndGlyphs" >Residual/um</text>
<polyline points="307.60,304.46 319.30,298.49 331.00,294.03 342.70,290.42 354.40,289.57 366.10,290.42 377.80,294.54 389.50,297.98 401.20,304.04 412.90,308.41 424.60,312.70" fill="none" stroke="#4f81bd" stroke-width="1.0" stroke-linejoin="round"/>
<circle cx="307.60" cy="304.46" r="1.20" fill="#4f81bd"/>
<circle cx="319.30" cy="298.49" r="1.20" fill="#4f81bd"/>
<circle cx="331.00" cy="294.03" r="1.20" fill="#4f81bd"/>
<circle cx="342.70" cy="290.42" r="1.20" fill="#4f81bd"/>
<circle cx="354.40" cy="289.57" r="1.20" fill="#4f81bd"/>
<circle cx="366.10" cy="290.42" r="1.20" fill="#4f81bd"/>
<circle cx="377.80" cy="294.54" r="1.20" fill="#4f81bd"/>
<circle cx="389.50" cy="297.98" r="1.20" fill="#4f81bd"/>
<circle cx="401.20" cy="304.04" r="1.20" fill="#4f81bd"/>
<circle cx="412.90" cy="308.41" r="1.20" fill="#4f81bd"/>
<circle cx="424.60" cy="312.70" r="1.20" fill="#4f81bd"/>
<polyline points="307.60,304.46 319.30,298.49 331.00,290.25 342.70,282.34 354.40,282.59 366.10,280.58 377.80,284.36 389.50,280.41 401.20,295.63 412.90,308.67 424.60,330.53" fill="none" stroke="#c0504d" stroke-width="1.0" stroke-linejoin="round"/>
<rect x="306.70" y="303.56" width="1.80" height="1.80" fill="#c0504d"/>
<rect x="318.40" y="297.59" width="1.80" height="1.80" fill="#c0504d"/>
<rect x="330.10" y="289.35" width="1.80" height="1.80" fill="#c0504d"/>
<rect x="341.80" y="281.44" width="1.80" height="1.80" fill="#c0504d"/>
<rect x="353.50" y="281.69" width="1.80" height="1.80" fill="#c0504d"/>
<rect x="365.20" y="279.68" width="1.80" height="1.80" fill="#c0504d"/>
<rect x="376.90" y="283.46" width="1.80" height="1.80" fill="#c0504d"/>
<rect x="388.60" y="279.51" width="1.80" height="1.80" fill="#c0504d"/>
<rect x="400.30" y="294.73" width="1.80" height="1.80" fill="#c0504d"/>
<rect x="412.00" y="307.77" width="1.80" height="1.80" fill="#c0504d"/>
<rect x="423.70" y="329.63" width="1.80" height="1.80" fill="#c0504d"/>
<polyline points="307.60,304.46 319.30,290.84 331.00,287.05 342.70,275.61 354.40,272.84 366.10,267.71 377.80,278.22 389.50,294.20 401.20,296.89 412.90,317.08 424.60,330.53" fill="none" stroke="#9bbb59" stroke-width="1.0" stroke-linejoin="round"/>
<path d="M307.60 302.90L309.04 305.66L306.16 305.66Z" fill="#9bbb59"/>
<path d="M319.30 289.28L320.74 292.04L317.86 292.04Z" fill="#9bbb59"/>
<path d="M331.00 285.49L332.44 288.25L329.56 288.25Z" fill="#9bbb59"/>
<path d="M342.70 274.05L344.14 276.81L341.26 276.81Z" fill="#9bbb59"/>
<path d="M354.40 271.28L355.84 274.04L352.96 274.04Z" fill="#9bbb59"/>
<path d="M366.10 266.15L367.54 268.91L364.66 268.91Z" fill="#9bbb59"/>
<path d="M377.80 276.66L379.24 279.42L376.36 279.42Z" fill="#9bbb59"/>
<path d="M389.50 292.64L390.94 295.40L388.06 295.40Z" fill="#9bbb59"/>
<path d="M401.20 295.33L402.64 298.09L399.76 298.09Z" fill="#9bbb59"/>
<path d="M412.90 315.52L414.34 318.28L411.46 318.28Z" fill="#9bbb59"/>
<path d="M424.60 328.97L426.04 331.73L423.16 331.73Z" fill="#9bbb59"/>
<polyline points="307.60,296.05 319.30,307.12 331.00,300.96 342.70,307.26 354.40,312.87 366.10,318.34 377.80,306.42 389.50,273.76 401.20,292.69 412.90,283.58 424.60,297.31" fill="none" stroke="#8064a2" stroke-width="0.95" stroke-linejoin="round" stroke-dasharray="2.4,1.8"/>
<circle cx="307.60" cy="296.05" r="1.10" fill="#8064a2"/>
<circle cx="319.30" cy="307.12" r="1.10" fill="#8064a2"/>
<circle cx="331.00" cy="300.96" r="1.10" fill="#8064a2"/>
<circle cx="342.70" cy="307.26" r="1.10" fill="#8064a2"/>
<circle cx="354.40" cy="312.87" r="1.10" fill="#8064a2"/>
<circle cx="366.10" cy="318.34" r="1.10" fill="#8064a2"/>
<circle cx="377.80" cy="306.42" r="1.10" fill="#8064a2"/>
<circle cx="389.50" cy="273.76" r="1.10" fill="#8064a2"/>
<circle cx="401.20" cy="292.69" r="1.10" fill="#8064a2"/>
<circle cx="412.90" cy="283.58" r="1.10" fill="#8064a2"/>
<circle cx="424.60" cy="297.31" r="1.10" fill="#8064a2"/>
<polyline points="307.60,296.05 319.30,294.51 331.00,289.04 342.70,282.73 354.40,284.70 366.10,279.93 377.80,280.07 389.50,265.91 401.20,280.35 412.90,298.15 424.60,325.49" fill="none" stroke="#4bacc6" stroke-width="0.9" stroke-linejoin="round" stroke-dasharray="2.0,1.2,0.9,1.2"/>
<circle cx="307.60" cy="296.05" r="1.10" fill="#4bacc6"/>
<circle cx="319.30" cy="294.51" r="1.10" fill="#4bacc6"/>
<circle cx="331.00" cy="289.04" r="1.10" fill="#4bacc6"/>
<circle cx="342.70" cy="282.73" r="1.10" fill="#4bacc6"/>
<circle cx="354.40" cy="284.70" r="1.10" fill="#4bacc6"/>
<circle cx="366.10" cy="279.93" r="1.10" fill="#4bacc6"/>
<circle cx="377.80" cy="280.07" r="1.10" fill="#4bacc6"/>
<circle cx="389.50" cy="265.91" r="1.10" fill="#4bacc6"/>
<circle cx="401.20" cy="280.35" r="1.10" fill="#4bacc6"/>
<circle cx="412.90" cy="298.15" r="1.10" fill="#4bacc6"/>
<circle cx="424.60" cy="325.49" r="1.10" fill="#4bacc6"/>
<line x1="455.2" y1="259.00" x2="464.7" y2="259.00" stroke="#4f81bd" stroke-width="1"/>
<circle cx="459.95" cy="259.00" r="1" fill="#4f81bd"/>
<text transform="translate(466.00 261.20) scale(0.890 1)" font-size="6.3" text-anchor="start" font-weight="bold" fill="#1a1a1a" stroke="#1a1a1a" stroke-width="0.2" letter-spacing="0.3">Electronic level</text>
<line x1="455.2" y1="278.40" x2="464.7" y2="278.40" stroke="#c0504d" stroke-width="1"/>
<circle cx="459.95" cy="278.40" r="1" fill="#c0504d"/>
<text transform="translate(466.00 280.61) scale(0.890 1)" font-size="6.3" text-anchor="start" font-weight="bold" fill="#1a1a1a" stroke="#1a1a1a" stroke-width="0.2" letter-spacing="0.3">Measurement mode 1</text>
<text transform="translate(466.00 289.00) scale(0.890 1)" font-size="6.3" text-anchor="start" font-weight="bold" fill="#1a1a1a" stroke="#1a1a1a" stroke-width="0.2" letter-spacing="0.3">matches the Equation (5)</text>
<line x1="455.2" y1="297.40" x2="464.7" y2="297.40" stroke="#9bbb59" stroke-width="1"/>
<circle cx="459.95" cy="297.40" r="1" fill="#9bbb59"/>
<text transform="translate(466.00 299.61) scale(0.890 1)" font-size="6.3" text-anchor="start" font-weight="bold" fill="#1a1a1a" stroke="#1a1a1a" stroke-width="0.2" letter-spacing="0.3">Measurement mode 2</text>
<text transform="translate(466.00 307.90) scale(0.890 1)" font-size="6.3" text-anchor="start" font-weight="bold" fill="#1a1a1a" stroke="#1a1a1a" stroke-width="0.2" letter-spacing="0.3">matches the Equation (10)</text>
<line x1="455.2" y1="316.10" x2="464.7" y2="316.10" stroke="#8064a2" stroke-width="1" stroke-dasharray="1.6,1.2"/>
<circle cx="459.95" cy="316.10" r="1" fill="#8064a2"/>
<text transform="translate(466.00 318.31) scale(0.890 1)" font-size="6.3" text-anchor="start" font-weight="bold" fill="#1a1a1a" stroke="#1a1a1a" stroke-width="0.2" letter-spacing="0.3">Residual 1 (Mode 1 and</text>
<text transform="translate(466.00 326.81) scale(0.890 1)" font-size="6.3" text-anchor="start" font-weight="bold" fill="#1a1a1a" stroke="#1a1a1a" stroke-width="0.2" letter-spacing="0.3">Mode 2)</text>
<line x1="455.2" y1="334.90" x2="464.7" y2="334.90" stroke="#4bacc6" stroke-width="1" stroke-dasharray="1.6,1.2"/>
<circle cx="459.95" cy="334.90" r="1" fill="#4bacc6"/>
<text transform="translate(466.00 337.10) scale(0.890 1)" font-size="6.3" text-anchor="start" font-weight="bold" fill="#1a1a1a" stroke="#1a1a1a" stroke-width="0.2" letter-spacing="0.3">Residual 2 (Mode 1 and</text>
<text transform="translate(466.00 345.60) scale(0.890 1)" font-size="6.3" text-anchor="start" font-weight="bold" fill="#1a1a1a" stroke="#1a1a1a" stroke-width="0.2" letter-spacing="0.3">Electronic level)</text>
<text x="412.80" y="365.90" font-size="10" text-anchor="middle" font-weight="normal" fill="#3a3a3a" stroke="#3a3a3a" stroke-width="0.3">f</text>
<text x="410.60" y="364.30" font-size="9" text-anchor="end" font-weight="normal" fill="#3a3a3a" stroke="#3a3a3a" stroke-width="0.25" transform="translate(410.60 0) scale(1.15 1) translate(-410.60 0)">(</text>
<text x="415.00" y="364.30" font-size="9" text-anchor="start" font-weight="normal" fill="#3a3a3a" stroke="#3a3a3a" stroke-width="0.25" transform="translate(415.00 0) scale(1.15 1) translate(-415.00 0)">)</text>
</svg></body></html>
